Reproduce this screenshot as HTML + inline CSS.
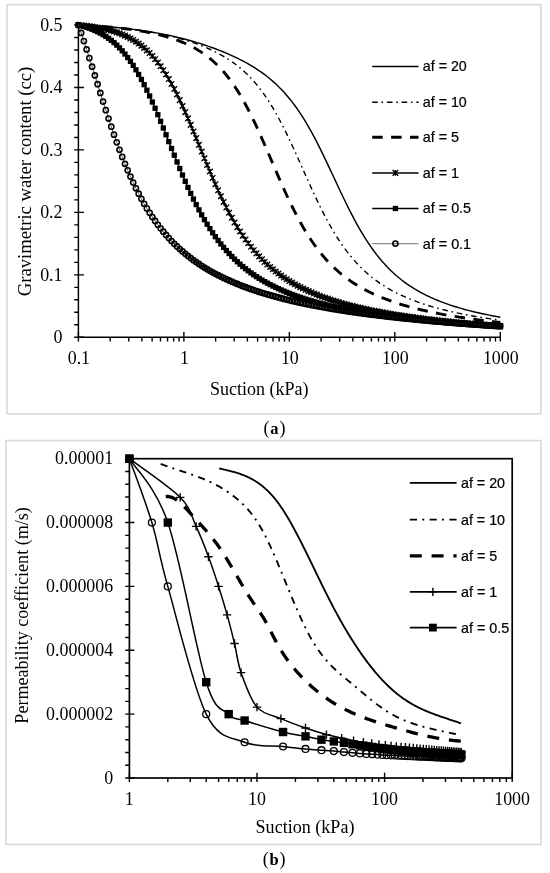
<!DOCTYPE html>
<html lang="en"><head><meta charset="utf-8"><title>Figure</title>
<style>html,body{margin:0;padding:0;background:#fff}svg{display:block}</style></head><body>
<svg width="550" height="873" viewBox="0 0 550 873">
<rect x="0" y="0" width="550" height="873" fill="#fff"/>
<rect x="7" y="4.6" width="534" height="409.2" fill="#fff" stroke="#d9d9d9" stroke-width="1.6"/>
<rect x="5.9" y="440.6" width="535.1" height="403.9" fill="#fff" stroke="#d9d9d9" stroke-width="1.6"/>
<g id="panel-a">
<path d="M78.40 24.40 V337.90 M77.80 337.30 H500.90" stroke="#000" stroke-width="1.45" fill="none"/>
<path d="M74.20 337.30 H83.90 M74.20 324.81 H78.40 M74.20 312.32 H78.40 M74.20 299.82 H78.40 M74.20 287.33 H78.40 M74.20 274.84 H83.90 M74.20 262.35 H78.40 M74.20 249.86 H78.40 M74.20 237.36 H78.40 M74.20 224.87 H78.40 M74.20 212.38 H83.90 M74.20 199.89 H78.40 M74.20 187.40 H78.40 M74.20 174.90 H78.40 M74.20 162.41 H78.40 M74.20 149.92 H83.90 M74.20 137.43 H78.40 M74.20 124.94 H78.40 M74.20 112.44 H78.40 M74.20 99.95 H78.40 M74.20 87.46 H83.90 M74.20 74.97 H78.40 M74.20 62.48 H78.40 M74.20 49.98 H78.40 M74.20 37.49 H78.40 M74.20 25.00 H83.90 M78.40 332.10 V341.40 M110.15 337.30 V341.40 M128.72 337.30 V341.40 M141.90 337.30 V341.40 M152.12 337.30 V341.40 M160.48 337.30 V341.40 M167.54 337.30 V341.40 M173.65 337.30 V341.40 M179.05 337.30 V341.40 M183.88 332.10 V341.40 M215.63 337.30 V341.40 M234.20 337.30 V341.40 M247.38 337.30 V341.40 M257.60 337.30 V341.40 M265.95 337.30 V341.40 M273.01 337.30 V341.40 M279.13 337.30 V341.40 M284.52 337.30 V341.40 M289.35 332.10 V341.40 M321.10 337.30 V341.40 M339.67 337.30 V341.40 M352.85 337.30 V341.40 M363.07 337.30 V341.40 M371.43 337.30 V341.40 M378.49 337.30 V341.40 M384.60 337.30 V341.40 M390.00 337.30 V341.40 M394.82 332.10 V341.40 M426.58 337.30 V341.40 M445.15 337.30 V341.40 M458.33 337.30 V341.40 M468.55 337.30 V341.40 M476.90 337.30 V341.40 M483.96 337.30 V341.40 M490.08 337.30 V341.40 M495.47 337.30 V341.40 M500.30 332.10 V341.40" stroke="#000" stroke-width="1.4" fill="none"/>
<text x="62.5" y="343.00" font-family='"Liberation Serif", "Times New Roman", serif' font-size="17.9" text-anchor="end">0</text>
<text x="62.5" y="280.54" font-family='"Liberation Serif", "Times New Roman", serif' font-size="17.9" text-anchor="end">0.1</text>
<text x="62.5" y="218.08" font-family='"Liberation Serif", "Times New Roman", serif' font-size="17.9" text-anchor="end">0.2</text>
<text x="62.5" y="155.62" font-family='"Liberation Serif", "Times New Roman", serif' font-size="17.9" text-anchor="end">0.3</text>
<text x="62.5" y="93.16" font-family='"Liberation Serif", "Times New Roman", serif' font-size="17.9" text-anchor="end">0.4</text>
<text x="62.5" y="30.70" font-family='"Liberation Serif", "Times New Roman", serif' font-size="17.9" text-anchor="end">0.5</text>
<text x="78.90" y="363.6" font-family='"Liberation Serif", "Times New Roman", serif' font-size="17.9" text-anchor="middle">0.1</text>
<text x="184.38" y="363.6" font-family='"Liberation Serif", "Times New Roman", serif' font-size="17.9" text-anchor="middle">1</text>
<text x="289.85" y="363.6" font-family='"Liberation Serif", "Times New Roman", serif' font-size="17.9" text-anchor="middle">10</text>
<text x="395.32" y="363.6" font-family='"Liberation Serif", "Times New Roman", serif' font-size="17.9" text-anchor="middle">100</text>
<text x="500.80" y="363.6" font-family='"Liberation Serif", "Times New Roman", serif' font-size="17.9" text-anchor="middle">1000</text>
<text x="259.3" y="394.7" font-family='"Liberation Serif", "Times New Roman", serif' font-size="18" text-anchor="middle" textLength="98.7" lengthAdjust="spacingAndGlyphs">Suction (kPa)</text>
<text transform="translate(30.5 181.5) rotate(-90)" font-family='"Liberation Serif", "Times New Roman", serif' font-size="18.5" text-anchor="middle" textLength="229.5" lengthAdjust="spacingAndGlyphs">Gravimetric water content (cc)</text>
<path d="M78.40 25.00 L81.14 25.13 L83.88 25.26 L86.62 25.40 L89.36 25.55 L92.10 25.71 L94.84 25.88 L97.58 26.05 L100.32 26.24 L103.06 26.44 L105.80 26.64 L108.54 26.86 L111.28 27.08 L114.01 27.32 L116.75 27.57 L119.49 27.84 L122.23 28.11 L124.97 28.40 L127.71 28.71 L130.45 29.03 L133.19 29.36 L135.93 29.71 L138.67 30.08 L141.41 30.46 L144.15 30.86 L146.89 31.28 L149.63 31.71 L152.37 32.17 L155.11 32.64 L157.85 33.14 L160.59 33.65 L163.33 34.18 L166.07 34.74 L168.81 35.31 L171.55 35.91 L174.29 36.53 L177.03 37.17 L179.77 37.84 L182.51 38.53 L185.24 39.24 L187.98 39.98 L190.72 40.74 L193.46 41.53 L196.20 42.34 L198.94 43.18 L201.68 44.04 L204.42 44.94 L207.16 45.86 L209.90 46.81 L212.64 47.79 L215.38 48.80 L218.12 49.84 L220.86 50.92 L223.60 52.03 L226.34 53.18 L229.08 54.37 L231.82 55.59 L234.56 56.86 L237.30 58.18 L240.04 59.54 L242.78 60.96 L245.52 62.43 L248.26 63.96 L251.00 65.55 L253.74 67.22 L256.47 68.96 L259.21 70.78 L261.95 72.69 L264.69 74.69 L267.43 76.80 L270.17 79.01 L272.91 81.35 L275.65 83.82 L278.39 86.42 L281.13 89.18 L283.87 92.09 L286.61 95.17 L289.35 98.43 L292.09 101.87 L294.83 105.51 L297.57 109.35 L300.31 113.39 L303.05 117.65 L305.79 122.11 L308.53 126.78 L311.27 131.65 L314.01 136.71 L316.75 141.95 L319.49 147.36 L322.23 152.90 L324.96 158.57 L327.70 164.33 L330.44 170.16 L333.18 176.03 L335.92 181.90 L338.66 187.74 L341.40 193.54 L344.14 199.25 L346.88 204.85 L349.62 210.33 L352.36 215.65 L355.10 220.80 L357.84 225.78 L360.58 230.56 L363.32 235.15 L366.06 239.53 L368.80 243.72 L371.54 247.71 L374.28 251.49 L377.02 255.09 L379.76 258.50 L382.50 261.73 L385.24 264.79 L387.98 267.69 L390.72 270.43 L393.46 273.02 L396.19 275.47 L398.93 277.79 L401.67 279.99 L404.41 282.07 L407.15 284.05 L409.89 285.92 L412.63 287.70 L415.37 289.39 L418.11 290.99 L420.85 292.51 L423.59 293.97 L426.33 295.35 L429.07 296.67 L431.81 297.92 L434.55 299.13 L437.29 300.27 L440.03 301.37 L442.77 302.42 L445.51 303.43 L448.25 304.39 L450.99 305.32 L453.73 306.20 L456.47 307.06 L459.21 307.88 L461.95 308.67 L464.69 309.43 L467.42 310.16 L470.16 310.86 L472.90 311.54 L475.64 312.20 L478.38 312.83 L481.12 313.44 L483.86 314.04 L486.60 314.61 L489.34 315.16 L492.08 315.70 L494.82 316.22 L497.56 316.72 L500.30 317.21" stroke="#000" stroke-width="1.45" fill="none" stroke-linejoin="round"/>
<path d="M78.40 25.00 L81.14 25.13 L83.88 25.26 L86.62 25.41 L89.36 25.56 L92.10 25.72 L94.84 25.89 L97.58 26.07 L100.32 26.25 L103.06 26.45 L105.80 26.66 L108.54 26.88 L111.28 27.11 L114.01 27.35 L116.75 27.61 L119.49 27.88 L122.23 28.16 L124.97 28.46 L127.71 28.77 L130.45 29.10 L133.19 29.45 L135.93 29.81 L138.67 30.19 L141.41 30.59 L144.15 31.00 L146.89 31.44 L149.63 31.89 L152.37 32.37 L155.11 32.87 L157.85 33.40 L160.59 33.94 L163.33 34.51 L166.07 35.11 L168.81 35.73 L171.55 36.38 L174.29 37.06 L177.03 37.77 L179.77 38.52 L182.51 39.29 L185.24 40.10 L187.98 40.94 L190.72 41.82 L193.46 42.75 L196.20 43.71 L198.94 44.72 L201.68 45.77 L204.42 46.88 L207.16 48.04 L209.90 49.25 L212.64 50.53 L215.38 51.87 L218.12 53.28 L220.86 54.77 L223.60 56.34 L226.34 58.00 L229.08 59.75 L231.82 61.60 L234.56 63.56 L237.30 65.65 L240.04 67.86 L242.78 70.20 L245.52 72.70 L248.26 75.35 L251.00 78.18 L253.74 81.18 L256.47 84.37 L259.21 87.76 L261.95 91.36 L264.69 95.18 L267.43 99.21 L270.17 103.48 L272.91 107.97 L275.65 112.68 L278.39 117.63 L281.13 122.78 L283.87 128.14 L286.61 133.68 L289.35 139.40 L292.09 145.26 L294.83 151.23 L297.57 157.30 L300.31 163.43 L303.05 169.58 L305.79 175.73 L308.53 181.84 L311.27 187.88 L314.01 193.82 L316.75 199.64 L319.49 205.32 L322.23 210.82 L324.96 216.15 L327.70 221.28 L330.44 226.21 L333.18 230.94 L335.92 235.45 L338.66 239.75 L341.40 243.84 L344.14 247.73 L346.88 251.42 L349.62 254.92 L352.36 258.23 L355.10 261.37 L357.84 264.34 L360.58 267.15 L363.32 269.81 L366.06 272.33 L368.80 274.71 L371.54 276.97 L374.28 279.11 L377.02 281.15 L379.76 283.07 L382.50 284.90 L385.24 286.64 L387.98 288.29 L390.72 289.87 L393.46 291.36 L396.19 292.79 L398.93 294.15 L401.67 295.45 L404.41 296.70 L407.15 297.88 L409.89 299.02 L412.63 300.11 L415.37 301.15 L418.11 302.15 L420.85 303.11 L423.59 304.03 L426.33 304.92 L429.07 305.77 L431.81 306.59 L434.55 307.38 L437.29 308.14 L440.03 308.88 L442.77 309.58 L445.51 310.27 L448.25 310.93 L450.99 311.57 L453.73 312.18 L456.47 312.78 L459.21 313.36 L461.95 313.92 L464.69 314.46 L467.42 314.98 L470.16 315.49 L472.90 315.99 L475.64 316.47 L478.38 316.94 L481.12 317.39 L483.86 317.83 L486.60 318.26 L489.34 318.67 L492.08 319.08 L494.82 319.47 L497.56 319.86 L500.30 320.23" stroke="#000" stroke-width="1.4" fill="none" stroke-dasharray="5.6 3.7 1.6 3.8" stroke-dashoffset="1.8" stroke-linejoin="round"/>
<path d="M78.40 25.00 L81.14 25.13 L83.88 25.27 L86.62 25.42 L89.36 25.58 L92.10 25.75 L94.84 25.92 L97.58 26.11 L100.32 26.31 L103.06 26.52 L105.80 26.74 L108.54 26.97 L111.28 27.22 L114.01 27.48 L116.75 27.76 L119.49 28.05 L122.23 28.36 L124.97 28.69 L127.71 29.03 L130.45 29.40 L133.19 29.78 L135.93 30.19 L138.67 30.62 L141.41 31.08 L144.15 31.56 L146.89 32.07 L149.63 32.61 L152.37 33.18 L155.11 33.79 L157.85 34.43 L160.59 35.11 L163.33 35.83 L166.07 36.59 L168.81 37.40 L171.55 38.26 L174.29 39.18 L177.03 40.15 L179.77 41.19 L182.51 42.29 L185.24 43.46 L187.98 44.71 L190.72 46.05 L193.46 47.48 L196.20 49.01 L198.94 50.65 L201.68 52.40 L204.42 54.27 L207.16 56.28 L209.90 58.44 L212.64 60.75 L215.38 63.23 L218.12 65.88 L220.86 68.73 L223.60 71.77 L226.34 75.03 L229.08 78.51 L231.82 82.22 L234.56 86.17 L237.30 90.37 L240.04 94.81 L242.78 99.50 L245.52 104.43 L248.26 109.61 L251.00 115.01 L253.74 120.62 L256.47 126.43 L259.21 132.42 L261.95 138.55 L264.69 144.79 L267.43 151.12 L270.17 157.51 L272.91 163.91 L275.65 170.29 L278.39 176.62 L281.13 182.87 L283.87 189.01 L286.61 195.01 L289.35 200.84 L292.09 206.50 L294.83 211.97 L297.57 217.23 L300.31 222.27 L303.05 227.10 L305.79 231.71 L308.53 236.10 L311.27 240.28 L314.01 244.25 L316.75 248.01 L319.49 251.58 L322.23 254.96 L324.96 258.16 L327.70 261.20 L330.44 264.07 L333.18 266.78 L335.92 269.36 L338.66 271.79 L341.40 274.10 L344.14 276.30 L346.88 278.37 L349.62 280.35 L352.36 282.22 L355.10 284.01 L357.84 285.70 L360.58 287.32 L363.32 288.86 L366.06 290.33 L368.80 291.73 L371.54 293.07 L374.28 294.35 L377.02 295.57 L379.76 296.74 L382.50 297.86 L385.24 298.94 L387.98 299.97 L390.72 300.97 L393.46 301.92 L396.19 302.84 L398.93 303.72 L401.67 304.57 L404.41 305.38 L407.15 306.17 L409.89 306.93 L412.63 307.67 L415.37 308.38 L418.11 309.06 L420.85 309.72 L423.59 310.37 L426.33 310.99 L429.07 311.59 L431.81 312.17 L434.55 312.73 L437.29 313.28 L440.03 313.81 L442.77 314.32 L445.51 314.82 L448.25 315.31 L450.99 315.78 L453.73 316.24 L456.47 316.69 L459.21 317.12 L461.95 317.54 L464.69 317.96 L467.42 318.36 L470.16 318.75 L472.90 319.13 L475.64 319.50 L478.38 319.86 L481.12 320.21 L483.86 320.56 L486.60 320.89 L489.34 321.22 L492.08 321.54 L494.82 321.86 L497.56 322.16 L500.30 322.46" stroke="#000" stroke-width="2.9" fill="none" stroke-dasharray="10.5 8.4" stroke-dashoffset="-5" stroke-linejoin="round"/>
<path d="M78.40 25.00 L81.14 25.27 L83.88 25.57 L86.62 25.89 L89.36 26.25 L92.10 26.64 L94.84 27.06 L97.58 27.53 L100.32 28.04 L103.06 28.60 L105.80 29.22 L108.54 29.90 L111.28 30.64 L114.01 31.46 L116.75 32.35 L119.49 33.34 L122.23 34.42 L124.97 35.61 L127.71 36.92 L130.45 38.36 L133.19 39.94 L135.93 41.66 L138.67 43.56 L141.41 45.63 L144.15 47.90 L146.89 50.37 L149.63 53.06 L152.37 55.99 L155.11 59.16 L157.85 62.59 L160.59 66.30 L163.33 70.28 L166.07 74.54 L168.81 79.09 L171.55 83.93 L174.29 89.05 L177.03 94.45 L179.77 100.10 L182.51 105.99 L185.24 112.10 L187.98 118.40 L190.72 124.87 L193.46 131.45 L196.20 138.13 L198.94 144.85 L201.68 151.59 L204.42 158.30 L207.16 164.96 L209.90 171.51 L212.64 177.94 L215.38 184.22 L218.12 190.33 L220.86 196.24 L223.60 201.95 L226.34 207.44 L229.08 212.70 L231.82 217.73 L234.56 222.54 L237.30 227.12 L240.04 231.48 L242.78 235.62 L245.52 239.56 L248.26 243.29 L251.00 246.82 L253.74 250.18 L256.47 253.36 L259.21 256.37 L261.95 259.23 L264.69 261.94 L267.43 264.51 L270.17 266.95 L272.91 269.27 L275.65 271.47 L278.39 273.56 L281.13 275.56 L283.87 277.45 L286.61 279.26 L289.35 280.99 L292.09 282.63 L294.83 284.20 L297.57 285.71 L300.31 287.14 L303.05 288.52 L305.79 289.83 L308.53 291.10 L311.27 292.31 L314.01 293.47 L316.75 294.59 L319.49 295.66 L322.23 296.70 L324.96 297.69 L327.70 298.65 L330.44 299.57 L333.18 300.46 L335.92 301.32 L338.66 302.15 L341.40 302.95 L344.14 303.73 L346.88 304.48 L349.62 305.20 L352.36 305.90 L355.10 306.58 L357.84 307.24 L360.58 307.88 L363.32 308.50 L366.06 309.10 L368.80 309.68 L371.54 310.25 L374.28 310.80 L377.02 311.34 L379.76 311.86 L382.50 312.36 L385.24 312.86 L387.98 313.33 L390.72 313.80 L393.46 314.26 L396.19 314.70 L398.93 315.13 L401.67 315.55 L404.41 315.96 L407.15 316.36 L409.89 316.76 L412.63 317.14 L415.37 317.51 L418.11 317.87 L420.85 318.23 L423.59 318.58 L426.33 318.92 L429.07 319.25 L431.81 319.58 L434.55 319.89 L437.29 320.20 L440.03 320.51 L442.77 320.81 L445.51 321.10 L448.25 321.39 L450.99 321.67 L453.73 321.94 L456.47 322.21 L459.21 322.47 L461.95 322.73 L464.69 322.98 L467.42 323.23 L470.16 323.48 L472.90 323.72 L475.64 323.95 L478.38 324.18 L481.12 324.41 L483.86 324.63 L486.60 324.85 L489.34 325.06 L492.08 325.27 L494.82 325.48 L497.56 325.68 L500.30 325.88" stroke="#000" stroke-width="1.4" fill="none"/>
<g><path d="M75.60 22.20 L81.20 27.80 M75.60 27.80 L81.20 22.20 M78.40 22.20 L78.40 27.80" stroke="#000" stroke-width="1.35" fill="none"/><path d="M78.34 22.47 L83.94 28.07 M78.34 28.07 L83.94 22.47 M81.14 22.47 L81.14 28.07" stroke="#000" stroke-width="1.35" fill="none"/><path d="M81.08 22.77 L86.68 28.37 M81.08 28.37 L86.68 22.77 M83.88 22.77 L83.88 28.37" stroke="#000" stroke-width="1.35" fill="none"/><path d="M83.82 23.09 L89.42 28.69 M83.82 28.69 L89.42 23.09 M86.62 23.09 L86.62 28.69" stroke="#000" stroke-width="1.35" fill="none"/><path d="M86.56 23.45 L92.16 29.05 M86.56 29.05 L92.16 23.45 M89.36 23.45 L89.36 29.05" stroke="#000" stroke-width="1.35" fill="none"/><path d="M89.30 23.84 L94.90 29.44 M89.30 29.44 L94.90 23.84 M92.10 23.84 L92.10 29.44" stroke="#000" stroke-width="1.35" fill="none"/><path d="M92.04 24.26 L97.64 29.86 M92.04 29.86 L97.64 24.26 M94.84 24.26 L94.84 29.86" stroke="#000" stroke-width="1.35" fill="none"/><path d="M94.78 24.73 L100.38 30.33 M94.78 30.33 L100.38 24.73 M97.58 24.73 L97.58 30.33" stroke="#000" stroke-width="1.35" fill="none"/><path d="M97.52 25.24 L103.12 30.84 M97.52 30.84 L103.12 25.24 M100.32 25.24 L100.32 30.84" stroke="#000" stroke-width="1.35" fill="none"/><path d="M100.26 25.80 L105.86 31.40 M100.26 31.40 L105.86 25.80 M103.06 25.80 L103.06 31.40" stroke="#000" stroke-width="1.35" fill="none"/><path d="M103.00 26.42 L108.60 32.02 M103.00 32.02 L108.60 26.42 M105.80 26.42 L105.80 32.02" stroke="#000" stroke-width="1.35" fill="none"/><path d="M105.74 27.10 L111.34 32.70 M105.74 32.70 L111.34 27.10 M108.54 27.10 L108.54 32.70" stroke="#000" stroke-width="1.35" fill="none"/><path d="M108.48 27.84 L114.08 33.44 M108.48 33.44 L114.08 27.84 M111.28 27.84 L111.28 33.44" stroke="#000" stroke-width="1.35" fill="none"/><path d="M111.21 28.66 L116.81 34.26 M111.21 34.26 L116.81 28.66 M114.01 28.66 L114.01 34.26" stroke="#000" stroke-width="1.35" fill="none"/><path d="M113.95 29.55 L119.55 35.15 M113.95 35.15 L119.55 29.55 M116.75 29.55 L116.75 35.15" stroke="#000" stroke-width="1.35" fill="none"/><path d="M116.69 30.54 L122.29 36.14 M116.69 36.14 L122.29 30.54 M119.49 30.54 L119.49 36.14" stroke="#000" stroke-width="1.35" fill="none"/><path d="M119.43 31.62 L125.03 37.22 M119.43 37.22 L125.03 31.62 M122.23 31.62 L122.23 37.22" stroke="#000" stroke-width="1.35" fill="none"/><path d="M122.17 32.81 L127.77 38.41 M122.17 38.41 L127.77 32.81 M124.97 32.81 L124.97 38.41" stroke="#000" stroke-width="1.35" fill="none"/><path d="M124.91 34.12 L130.51 39.72 M124.91 39.72 L130.51 34.12 M127.71 34.12 L127.71 39.72" stroke="#000" stroke-width="1.35" fill="none"/><path d="M127.65 35.56 L133.25 41.16 M127.65 41.16 L133.25 35.56 M130.45 35.56 L130.45 41.16" stroke="#000" stroke-width="1.35" fill="none"/><path d="M130.39 37.14 L135.99 42.74 M130.39 42.74 L135.99 37.14 M133.19 37.14 L133.19 42.74" stroke="#000" stroke-width="1.35" fill="none"/><path d="M133.13 38.86 L138.73 44.46 M133.13 44.46 L138.73 38.86 M135.93 38.86 L135.93 44.46" stroke="#000" stroke-width="1.35" fill="none"/><path d="M135.87 40.76 L141.47 46.36 M135.87 46.36 L141.47 40.76 M138.67 40.76 L138.67 46.36" stroke="#000" stroke-width="1.35" fill="none"/><path d="M138.61 42.83 L144.21 48.43 M138.61 48.43 L144.21 42.83 M141.41 42.83 L141.41 48.43" stroke="#000" stroke-width="1.35" fill="none"/><path d="M141.35 45.10 L146.95 50.70 M141.35 50.70 L146.95 45.10 M144.15 45.10 L144.15 50.70" stroke="#000" stroke-width="1.35" fill="none"/><path d="M144.09 47.57 L149.69 53.17 M144.09 53.17 L149.69 47.57 M146.89 47.57 L146.89 53.17" stroke="#000" stroke-width="1.35" fill="none"/><path d="M146.83 50.26 L152.43 55.86 M146.83 55.86 L152.43 50.26 M149.63 50.26 L149.63 55.86" stroke="#000" stroke-width="1.35" fill="none"/><path d="M149.57 53.19 L155.17 58.79 M149.57 58.79 L155.17 53.19 M152.37 53.19 L152.37 58.79" stroke="#000" stroke-width="1.35" fill="none"/><path d="M152.31 56.36 L157.91 61.96 M152.31 61.96 L157.91 56.36 M155.11 56.36 L155.11 61.96" stroke="#000" stroke-width="1.35" fill="none"/><path d="M155.05 59.79 L160.65 65.39 M155.05 65.39 L160.65 59.79 M157.85 59.79 L157.85 65.39" stroke="#000" stroke-width="1.35" fill="none"/><path d="M157.79 63.50 L163.39 69.10 M157.79 69.10 L163.39 63.50 M160.59 63.50 L160.59 69.10" stroke="#000" stroke-width="1.35" fill="none"/><path d="M160.53 67.48 L166.13 73.08 M160.53 73.08 L166.13 67.48 M163.33 67.48 L163.33 73.08" stroke="#000" stroke-width="1.35" fill="none"/><path d="M163.27 71.74 L168.87 77.34 M163.27 77.34 L168.87 71.74 M166.07 71.74 L166.07 77.34" stroke="#000" stroke-width="1.35" fill="none"/><path d="M166.01 76.29 L171.61 81.89 M166.01 81.89 L171.61 76.29 M168.81 76.29 L168.81 81.89" stroke="#000" stroke-width="1.35" fill="none"/><path d="M168.75 81.13 L174.35 86.73 M168.75 86.73 L174.35 81.13 M171.55 81.13 L171.55 86.73" stroke="#000" stroke-width="1.35" fill="none"/><path d="M171.49 86.25 L177.09 91.85 M171.49 91.85 L177.09 86.25 M174.29 86.25 L174.29 91.85" stroke="#000" stroke-width="1.35" fill="none"/><path d="M174.23 91.65 L179.83 97.25 M174.23 97.25 L179.83 91.65 M177.03 91.65 L177.03 97.25" stroke="#000" stroke-width="1.35" fill="none"/><path d="M176.97 97.30 L182.57 102.90 M176.97 102.90 L182.57 97.30 M179.77 97.30 L179.77 102.90" stroke="#000" stroke-width="1.35" fill="none"/><path d="M179.71 103.19 L185.31 108.79 M179.71 108.79 L185.31 103.19 M182.51 103.19 L182.51 108.79" stroke="#000" stroke-width="1.35" fill="none"/><path d="M182.44 109.30 L188.04 114.90 M182.44 114.90 L188.04 109.30 M185.24 109.30 L185.24 114.90" stroke="#000" stroke-width="1.35" fill="none"/><path d="M185.18 115.60 L190.78 121.20 M185.18 121.20 L190.78 115.60 M187.98 115.60 L187.98 121.20" stroke="#000" stroke-width="1.35" fill="none"/><path d="M187.92 122.07 L193.52 127.67 M187.92 127.67 L193.52 122.07 M190.72 122.07 L190.72 127.67" stroke="#000" stroke-width="1.35" fill="none"/><path d="M190.66 128.65 L196.26 134.25 M190.66 134.25 L196.26 128.65 M193.46 128.65 L193.46 134.25" stroke="#000" stroke-width="1.35" fill="none"/><path d="M193.40 135.33 L199.00 140.93 M193.40 140.93 L199.00 135.33 M196.20 135.33 L196.20 140.93" stroke="#000" stroke-width="1.35" fill="none"/><path d="M196.14 142.05 L201.74 147.65 M196.14 147.65 L201.74 142.05 M198.94 142.05 L198.94 147.65" stroke="#000" stroke-width="1.35" fill="none"/><path d="M198.88 148.79 L204.48 154.39 M198.88 154.39 L204.48 148.79 M201.68 148.79 L201.68 154.39" stroke="#000" stroke-width="1.35" fill="none"/><path d="M201.62 155.50 L207.22 161.10 M201.62 161.10 L207.22 155.50 M204.42 155.50 L204.42 161.10" stroke="#000" stroke-width="1.35" fill="none"/><path d="M204.36 162.16 L209.96 167.76 M204.36 167.76 L209.96 162.16 M207.16 162.16 L207.16 167.76" stroke="#000" stroke-width="1.35" fill="none"/><path d="M207.10 168.71 L212.70 174.31 M207.10 174.31 L212.70 168.71 M209.90 168.71 L209.90 174.31" stroke="#000" stroke-width="1.35" fill="none"/><path d="M209.84 175.14 L215.44 180.74 M209.84 180.74 L215.44 175.14 M212.64 175.14 L212.64 180.74" stroke="#000" stroke-width="1.35" fill="none"/><path d="M212.58 181.42 L218.18 187.02 M212.58 187.02 L218.18 181.42 M215.38 181.42 L215.38 187.02" stroke="#000" stroke-width="1.35" fill="none"/><path d="M215.32 187.53 L220.92 193.13 M215.32 193.13 L220.92 187.53 M218.12 187.53 L218.12 193.13" stroke="#000" stroke-width="1.35" fill="none"/><path d="M218.06 193.44 L223.66 199.04 M218.06 199.04 L223.66 193.44 M220.86 193.44 L220.86 199.04" stroke="#000" stroke-width="1.35" fill="none"/><path d="M220.80 199.15 L226.40 204.75 M220.80 204.75 L226.40 199.15 M223.60 199.15 L223.60 204.75" stroke="#000" stroke-width="1.35" fill="none"/><path d="M223.54 204.64 L229.14 210.24 M223.54 210.24 L229.14 204.64 M226.34 204.64 L226.34 210.24" stroke="#000" stroke-width="1.35" fill="none"/><path d="M226.28 209.90 L231.88 215.50 M226.28 215.50 L231.88 209.90 M229.08 209.90 L229.08 215.50" stroke="#000" stroke-width="1.35" fill="none"/><path d="M229.02 214.93 L234.62 220.53 M229.02 220.53 L234.62 214.93 M231.82 214.93 L231.82 220.53" stroke="#000" stroke-width="1.35" fill="none"/><path d="M231.76 219.74 L237.36 225.34 M231.76 225.34 L237.36 219.74 M234.56 219.74 L234.56 225.34" stroke="#000" stroke-width="1.35" fill="none"/><path d="M234.50 224.32 L240.10 229.92 M234.50 229.92 L240.10 224.32 M237.30 224.32 L237.30 229.92" stroke="#000" stroke-width="1.35" fill="none"/><path d="M237.24 228.68 L242.84 234.28 M237.24 234.28 L242.84 228.68 M240.04 228.68 L240.04 234.28" stroke="#000" stroke-width="1.35" fill="none"/><path d="M239.98 232.82 L245.58 238.42 M239.98 238.42 L245.58 232.82 M242.78 232.82 L242.78 238.42" stroke="#000" stroke-width="1.35" fill="none"/><path d="M242.72 236.76 L248.32 242.36 M242.72 242.36 L248.32 236.76 M245.52 236.76 L245.52 242.36" stroke="#000" stroke-width="1.35" fill="none"/><path d="M245.46 240.49 L251.06 246.09 M245.46 246.09 L251.06 240.49 M248.26 240.49 L248.26 246.09" stroke="#000" stroke-width="1.35" fill="none"/><path d="M248.20 244.02 L253.80 249.62 M248.20 249.62 L253.80 244.02 M251.00 244.02 L251.00 249.62" stroke="#000" stroke-width="1.35" fill="none"/><path d="M250.94 247.38 L256.54 252.98 M250.94 252.98 L256.54 247.38 M253.74 247.38 L253.74 252.98" stroke="#000" stroke-width="1.35" fill="none"/><path d="M253.67 250.56 L259.27 256.16 M253.67 256.16 L259.27 250.56 M256.47 250.56 L256.47 256.16" stroke="#000" stroke-width="1.35" fill="none"/><path d="M256.41 253.57 L262.01 259.17 M256.41 259.17 L262.01 253.57 M259.21 253.57 L259.21 259.17" stroke="#000" stroke-width="1.35" fill="none"/><path d="M259.15 256.43 L264.75 262.03 M259.15 262.03 L264.75 256.43 M261.95 256.43 L261.95 262.03" stroke="#000" stroke-width="1.35" fill="none"/><path d="M261.89 259.14 L267.49 264.74 M261.89 264.74 L267.49 259.14 M264.69 259.14 L264.69 264.74" stroke="#000" stroke-width="1.35" fill="none"/><path d="M264.63 261.71 L270.23 267.31 M264.63 267.31 L270.23 261.71 M267.43 261.71 L267.43 267.31" stroke="#000" stroke-width="1.35" fill="none"/><path d="M267.37 264.15 L272.97 269.75 M267.37 269.75 L272.97 264.15 M270.17 264.15 L270.17 269.75" stroke="#000" stroke-width="1.35" fill="none"/><path d="M270.11 266.47 L275.71 272.07 M270.11 272.07 L275.71 266.47 M272.91 266.47 L272.91 272.07" stroke="#000" stroke-width="1.35" fill="none"/><path d="M272.85 268.67 L278.45 274.27 M272.85 274.27 L278.45 268.67 M275.65 268.67 L275.65 274.27" stroke="#000" stroke-width="1.35" fill="none"/><path d="M275.59 270.76 L281.19 276.36 M275.59 276.36 L281.19 270.76 M278.39 270.76 L278.39 276.36" stroke="#000" stroke-width="1.35" fill="none"/><path d="M278.33 272.76 L283.93 278.36 M278.33 278.36 L283.93 272.76 M281.13 272.76 L281.13 278.36" stroke="#000" stroke-width="1.35" fill="none"/><path d="M281.07 274.65 L286.67 280.25 M281.07 280.25 L286.67 274.65 M283.87 274.65 L283.87 280.25" stroke="#000" stroke-width="1.35" fill="none"/><path d="M283.81 276.46 L289.41 282.06 M283.81 282.06 L289.41 276.46 M286.61 276.46 L286.61 282.06" stroke="#000" stroke-width="1.35" fill="none"/><path d="M286.55 278.19 L292.15 283.79 M286.55 283.79 L292.15 278.19 M289.35 278.19 L289.35 283.79" stroke="#000" stroke-width="1.35" fill="none"/><path d="M289.29 279.83 L294.89 285.43 M289.29 285.43 L294.89 279.83 M292.09 279.83 L292.09 285.43" stroke="#000" stroke-width="1.35" fill="none"/><path d="M292.03 281.40 L297.63 287.00 M292.03 287.00 L297.63 281.40 M294.83 281.40 L294.83 287.00" stroke="#000" stroke-width="1.35" fill="none"/><path d="M294.77 282.91 L300.37 288.51 M294.77 288.51 L300.37 282.91 M297.57 282.91 L297.57 288.51" stroke="#000" stroke-width="1.35" fill="none"/><path d="M297.51 284.34 L303.11 289.94 M297.51 289.94 L303.11 284.34 M300.31 284.34 L300.31 289.94" stroke="#000" stroke-width="1.35" fill="none"/><path d="M300.25 285.72 L305.85 291.32 M300.25 291.32 L305.85 285.72 M303.05 285.72 L303.05 291.32" stroke="#000" stroke-width="1.35" fill="none"/><path d="M302.99 287.03 L308.59 292.63 M302.99 292.63 L308.59 287.03 M305.79 287.03 L305.79 292.63" stroke="#000" stroke-width="1.35" fill="none"/><path d="M305.73 288.30 L311.33 293.90 M305.73 293.90 L311.33 288.30 M308.53 288.30 L308.53 293.90" stroke="#000" stroke-width="1.35" fill="none"/><path d="M308.47 289.51 L314.07 295.11 M308.47 295.11 L314.07 289.51 M311.27 289.51 L311.27 295.11" stroke="#000" stroke-width="1.35" fill="none"/><path d="M311.21 290.67 L316.81 296.27 M311.21 296.27 L316.81 290.67 M314.01 290.67 L314.01 296.27" stroke="#000" stroke-width="1.35" fill="none"/><path d="M313.95 291.79 L319.55 297.39 M313.95 297.39 L319.55 291.79 M316.75 291.79 L316.75 297.39" stroke="#000" stroke-width="1.35" fill="none"/><path d="M316.69 292.86 L322.29 298.46 M316.69 298.46 L322.29 292.86 M319.49 292.86 L319.49 298.46" stroke="#000" stroke-width="1.35" fill="none"/><path d="M319.43 293.90 L325.03 299.50 M319.43 299.50 L325.03 293.90 M322.23 293.90 L322.23 299.50" stroke="#000" stroke-width="1.35" fill="none"/><path d="M322.16 294.89 L327.76 300.49 M322.16 300.49 L327.76 294.89 M324.96 294.89 L324.96 300.49" stroke="#000" stroke-width="1.35" fill="none"/><path d="M324.90 295.85 L330.50 301.45 M324.90 301.45 L330.50 295.85 M327.70 295.85 L327.70 301.45" stroke="#000" stroke-width="1.35" fill="none"/><path d="M327.64 296.77 L333.24 302.37 M327.64 302.37 L333.24 296.77 M330.44 296.77 L330.44 302.37" stroke="#000" stroke-width="1.35" fill="none"/><path d="M330.38 297.66 L335.98 303.26 M330.38 303.26 L335.98 297.66 M333.18 297.66 L333.18 303.26" stroke="#000" stroke-width="1.35" fill="none"/><path d="M333.12 298.52 L338.72 304.12 M333.12 304.12 L338.72 298.52 M335.92 298.52 L335.92 304.12" stroke="#000" stroke-width="1.35" fill="none"/><path d="M335.86 299.35 L341.46 304.95 M335.86 304.95 L341.46 299.35 M338.66 299.35 L338.66 304.95" stroke="#000" stroke-width="1.35" fill="none"/><path d="M338.60 300.15 L344.20 305.75 M338.60 305.75 L344.20 300.15 M341.40 300.15 L341.40 305.75" stroke="#000" stroke-width="1.35" fill="none"/><path d="M341.34 300.93 L346.94 306.53 M341.34 306.53 L346.94 300.93 M344.14 300.93 L344.14 306.53" stroke="#000" stroke-width="1.35" fill="none"/><path d="M344.08 301.68 L349.68 307.28 M344.08 307.28 L349.68 301.68 M346.88 301.68 L346.88 307.28" stroke="#000" stroke-width="1.35" fill="none"/><path d="M346.82 302.40 L352.42 308.00 M346.82 308.00 L352.42 302.40 M349.62 302.40 L349.62 308.00" stroke="#000" stroke-width="1.35" fill="none"/><path d="M349.56 303.10 L355.16 308.70 M349.56 308.70 L355.16 303.10 M352.36 303.10 L352.36 308.70" stroke="#000" stroke-width="1.35" fill="none"/><path d="M352.30 303.78 L357.90 309.38 M352.30 309.38 L357.90 303.78 M355.10 303.78 L355.10 309.38" stroke="#000" stroke-width="1.35" fill="none"/><path d="M355.04 304.44 L360.64 310.04 M355.04 310.04 L360.64 304.44 M357.84 304.44 L357.84 310.04" stroke="#000" stroke-width="1.35" fill="none"/><path d="M357.78 305.08 L363.38 310.68 M357.78 310.68 L363.38 305.08 M360.58 305.08 L360.58 310.68" stroke="#000" stroke-width="1.35" fill="none"/><path d="M360.52 305.70 L366.12 311.30 M360.52 311.30 L366.12 305.70 M363.32 305.70 L363.32 311.30" stroke="#000" stroke-width="1.35" fill="none"/><path d="M363.26 306.30 L368.86 311.90 M363.26 311.90 L368.86 306.30 M366.06 306.30 L366.06 311.90" stroke="#000" stroke-width="1.35" fill="none"/><path d="M366.00 306.88 L371.60 312.48 M366.00 312.48 L371.60 306.88 M368.80 306.88 L368.80 312.48" stroke="#000" stroke-width="1.35" fill="none"/><path d="M368.74 307.45 L374.34 313.05 M368.74 313.05 L374.34 307.45 M371.54 307.45 L371.54 313.05" stroke="#000" stroke-width="1.35" fill="none"/><path d="M371.48 308.00 L377.08 313.60 M371.48 313.60 L377.08 308.00 M374.28 308.00 L374.28 313.60" stroke="#000" stroke-width="1.35" fill="none"/><path d="M374.22 308.54 L379.82 314.14 M374.22 314.14 L379.82 308.54 M377.02 308.54 L377.02 314.14" stroke="#000" stroke-width="1.35" fill="none"/><path d="M376.96 309.06 L382.56 314.66 M376.96 314.66 L382.56 309.06 M379.76 309.06 L379.76 314.66" stroke="#000" stroke-width="1.35" fill="none"/><path d="M379.70 309.56 L385.30 315.16 M379.70 315.16 L385.30 309.56 M382.50 309.56 L382.50 315.16" stroke="#000" stroke-width="1.35" fill="none"/><path d="M382.44 310.06 L388.04 315.66 M382.44 315.66 L388.04 310.06 M385.24 310.06 L385.24 315.66" stroke="#000" stroke-width="1.35" fill="none"/><path d="M385.18 310.53 L390.78 316.13 M385.18 316.13 L390.78 310.53 M387.98 310.53 L387.98 316.13" stroke="#000" stroke-width="1.35" fill="none"/><path d="M387.92 311.00 L393.52 316.60 M387.92 316.60 L393.52 311.00 M390.72 311.00 L390.72 316.60" stroke="#000" stroke-width="1.35" fill="none"/><path d="M390.66 311.46 L396.26 317.06 M390.66 317.06 L396.26 311.46 M393.46 311.46 L393.46 317.06" stroke="#000" stroke-width="1.35" fill="none"/><path d="M393.39 311.90 L398.99 317.50 M393.39 317.50 L398.99 311.90 M396.19 311.90 L396.19 317.50" stroke="#000" stroke-width="1.35" fill="none"/><path d="M396.13 312.33 L401.73 317.93 M396.13 317.93 L401.73 312.33 M398.93 312.33 L398.93 317.93" stroke="#000" stroke-width="1.35" fill="none"/><path d="M398.87 312.75 L404.47 318.35 M398.87 318.35 L404.47 312.75 M401.67 312.75 L401.67 318.35" stroke="#000" stroke-width="1.35" fill="none"/><path d="M401.61 313.16 L407.21 318.76 M401.61 318.76 L407.21 313.16 M404.41 313.16 L404.41 318.76" stroke="#000" stroke-width="1.35" fill="none"/><path d="M404.35 313.56 L409.95 319.16 M404.35 319.16 L409.95 313.56 M407.15 313.56 L407.15 319.16" stroke="#000" stroke-width="1.35" fill="none"/><path d="M407.09 313.96 L412.69 319.56 M407.09 319.56 L412.69 313.96 M409.89 313.96 L409.89 319.56" stroke="#000" stroke-width="1.35" fill="none"/><path d="M409.83 314.34 L415.43 319.94 M409.83 319.94 L415.43 314.34 M412.63 314.34 L412.63 319.94" stroke="#000" stroke-width="1.35" fill="none"/><path d="M412.57 314.71 L418.17 320.31 M412.57 320.31 L418.17 314.71 M415.37 314.71 L415.37 320.31" stroke="#000" stroke-width="1.35" fill="none"/><path d="M415.31 315.07 L420.91 320.67 M415.31 320.67 L420.91 315.07 M418.11 315.07 L418.11 320.67" stroke="#000" stroke-width="1.35" fill="none"/><path d="M418.05 315.43 L423.65 321.03 M418.05 321.03 L423.65 315.43 M420.85 315.43 L420.85 321.03" stroke="#000" stroke-width="1.35" fill="none"/><path d="M420.79 315.78 L426.39 321.38 M420.79 321.38 L426.39 315.78 M423.59 315.78 L423.59 321.38" stroke="#000" stroke-width="1.35" fill="none"/><path d="M423.53 316.12 L429.13 321.72 M423.53 321.72 L429.13 316.12 M426.33 316.12 L426.33 321.72" stroke="#000" stroke-width="1.35" fill="none"/><path d="M426.27 316.45 L431.87 322.05 M426.27 322.05 L431.87 316.45 M429.07 316.45 L429.07 322.05" stroke="#000" stroke-width="1.35" fill="none"/><path d="M429.01 316.78 L434.61 322.38 M429.01 322.38 L434.61 316.78 M431.81 316.78 L431.81 322.38" stroke="#000" stroke-width="1.35" fill="none"/><path d="M431.75 317.09 L437.35 322.69 M431.75 322.69 L437.35 317.09 M434.55 317.09 L434.55 322.69" stroke="#000" stroke-width="1.35" fill="none"/><path d="M434.49 317.40 L440.09 323.00 M434.49 323.00 L440.09 317.40 M437.29 317.40 L437.29 323.00" stroke="#000" stroke-width="1.35" fill="none"/><path d="M437.23 317.71 L442.83 323.31 M437.23 323.31 L442.83 317.71 M440.03 317.71 L440.03 323.31" stroke="#000" stroke-width="1.35" fill="none"/><path d="M439.97 318.01 L445.57 323.61 M439.97 323.61 L445.57 318.01 M442.77 318.01 L442.77 323.61" stroke="#000" stroke-width="1.35" fill="none"/><path d="M442.71 318.30 L448.31 323.90 M442.71 323.90 L448.31 318.30 M445.51 318.30 L445.51 323.90" stroke="#000" stroke-width="1.35" fill="none"/><path d="M445.45 318.59 L451.05 324.19 M445.45 324.19 L451.05 318.59 M448.25 318.59 L448.25 324.19" stroke="#000" stroke-width="1.35" fill="none"/><path d="M448.19 318.87 L453.79 324.47 M448.19 324.47 L453.79 318.87 M450.99 318.87 L450.99 324.47" stroke="#000" stroke-width="1.35" fill="none"/><path d="M450.93 319.14 L456.53 324.74 M450.93 324.74 L456.53 319.14 M453.73 319.14 L453.73 324.74" stroke="#000" stroke-width="1.35" fill="none"/><path d="M453.67 319.41 L459.27 325.01 M453.67 325.01 L459.27 319.41 M456.47 319.41 L456.47 325.01" stroke="#000" stroke-width="1.35" fill="none"/><path d="M456.41 319.67 L462.01 325.27 M456.41 325.27 L462.01 319.67 M459.21 319.67 L459.21 325.27" stroke="#000" stroke-width="1.35" fill="none"/><path d="M459.15 319.93 L464.75 325.53 M459.15 325.53 L464.75 319.93 M461.95 319.93 L461.95 325.53" stroke="#000" stroke-width="1.35" fill="none"/><path d="M461.89 320.18 L467.49 325.78 M461.89 325.78 L467.49 320.18 M464.69 320.18 L464.69 325.78" stroke="#000" stroke-width="1.35" fill="none"/><path d="M464.62 320.43 L470.22 326.03 M464.62 326.03 L470.22 320.43 M467.42 320.43 L467.42 326.03" stroke="#000" stroke-width="1.35" fill="none"/><path d="M467.36 320.68 L472.96 326.28 M467.36 326.28 L472.96 320.68 M470.16 320.68 L470.16 326.28" stroke="#000" stroke-width="1.35" fill="none"/><path d="M470.10 320.92 L475.70 326.52 M470.10 326.52 L475.70 320.92 M472.90 320.92 L472.90 326.52" stroke="#000" stroke-width="1.35" fill="none"/><path d="M472.84 321.15 L478.44 326.75 M472.84 326.75 L478.44 321.15 M475.64 321.15 L475.64 326.75" stroke="#000" stroke-width="1.35" fill="none"/><path d="M475.58 321.38 L481.18 326.98 M475.58 326.98 L481.18 321.38 M478.38 321.38 L478.38 326.98" stroke="#000" stroke-width="1.35" fill="none"/><path d="M478.32 321.61 L483.92 327.21 M478.32 327.21 L483.92 321.61 M481.12 321.61 L481.12 327.21" stroke="#000" stroke-width="1.35" fill="none"/><path d="M481.06 321.83 L486.66 327.43 M481.06 327.43 L486.66 321.83 M483.86 321.83 L483.86 327.43" stroke="#000" stroke-width="1.35" fill="none"/><path d="M483.80 322.05 L489.40 327.65 M483.80 327.65 L489.40 322.05 M486.60 322.05 L486.60 327.65" stroke="#000" stroke-width="1.35" fill="none"/><path d="M486.54 322.26 L492.14 327.86 M486.54 327.86 L492.14 322.26 M489.34 322.26 L489.34 327.86" stroke="#000" stroke-width="1.35" fill="none"/><path d="M489.28 322.47 L494.88 328.07 M489.28 328.07 L494.88 322.47 M492.08 322.47 L492.08 328.07" stroke="#000" stroke-width="1.35" fill="none"/><path d="M492.02 322.68 L497.62 328.28 M492.02 328.28 L497.62 322.68 M494.82 322.68 L494.82 328.28" stroke="#000" stroke-width="1.35" fill="none"/><path d="M494.76 322.88 L500.36 328.48 M494.76 328.48 L500.36 322.88 M497.56 322.88 L497.56 328.48" stroke="#000" stroke-width="1.35" fill="none"/><path d="M497.50 323.08 L503.10 328.68 M497.50 328.68 L503.10 323.08 M500.30 323.08 L500.30 328.68" stroke="#000" stroke-width="1.35" fill="none"/></g>
<path d="M78.40 25.00 L81.14 25.69 L83.88 26.46 L86.62 27.31 L89.36 28.25 L92.10 29.29 L94.84 30.45 L97.58 31.72 L100.32 33.13 L103.06 34.68 L105.80 36.39 L108.54 38.28 L111.28 40.36 L114.01 42.63 L116.75 45.12 L119.49 47.85 L122.23 50.82 L124.97 54.05 L127.71 57.55 L130.45 61.34 L133.19 65.41 L135.93 69.79 L138.67 74.45 L141.41 79.42 L144.15 84.67 L146.89 90.20 L149.63 95.99 L152.37 102.03 L155.11 108.28 L157.85 114.71 L160.59 121.30 L163.33 128.01 L166.07 134.79 L168.81 141.62 L171.55 148.44 L174.29 155.23 L177.03 161.95 L179.77 168.55 L182.51 175.03 L185.24 181.34 L187.98 187.46 L190.72 193.39 L193.46 199.10 L196.20 204.59 L198.94 209.86 L201.68 214.89 L204.42 219.70 L207.16 224.27 L209.90 228.63 L212.64 232.77 L215.38 236.70 L218.12 240.44 L220.86 243.98 L223.60 247.34 L226.34 250.53 L229.08 253.55 L231.82 256.42 L234.56 259.14 L237.30 261.73 L240.04 264.18 L242.78 266.52 L245.52 268.74 L248.26 270.86 L251.00 272.87 L253.74 274.79 L256.47 276.62 L259.21 278.37 L261.95 280.04 L264.69 281.64 L267.43 283.17 L270.17 284.63 L272.91 286.03 L275.65 287.38 L278.39 288.67 L281.13 289.90 L283.87 291.09 L286.61 292.24 L289.35 293.34 L292.09 294.40 L294.83 295.42 L297.57 296.41 L300.31 297.35 L303.05 298.27 L305.79 299.16 L308.53 300.01 L311.27 300.84 L314.01 301.64 L316.75 302.41 L319.49 303.16 L322.23 303.89 L324.96 304.59 L327.70 305.27 L330.44 305.93 L333.18 306.58 L335.92 307.20 L338.66 307.80 L341.40 308.39 L344.14 308.96 L346.88 309.52 L349.62 310.06 L352.36 310.59 L355.10 311.10 L357.84 311.60 L360.58 312.09 L363.32 312.56 L366.06 313.02 L368.80 313.47 L371.54 313.91 L374.28 314.34 L377.02 314.76 L379.76 315.17 L382.50 315.56 L385.24 315.95 L387.98 316.33 L390.72 316.71 L393.46 317.07 L396.19 317.43 L398.93 317.77 L401.67 318.11 L404.41 318.45 L407.15 318.77 L409.89 319.09 L412.63 319.40 L415.37 319.71 L418.11 320.01 L420.85 320.30 L423.59 320.59 L426.33 320.87 L429.07 321.15 L431.81 321.42 L434.55 321.68 L437.29 321.94 L440.03 322.20 L442.77 322.45 L445.51 322.70 L448.25 322.94 L450.99 323.17 L453.73 323.41 L456.47 323.64 L459.21 323.86 L461.95 324.08 L464.69 324.30 L467.42 324.51 L470.16 324.72 L472.90 324.93 L475.64 325.13 L478.38 325.33 L481.12 325.52 L483.86 325.72 L486.60 325.91 L489.34 326.09 L492.08 326.27 L494.82 326.46 L497.56 326.63 L500.30 326.81" stroke="#000" stroke-width="1.4" fill="none"/>
<g><rect x="75.75" y="22.35" width="5.30" height="5.30" fill="#000"/><rect x="78.49" y="23.04" width="5.30" height="5.30" fill="#000"/><rect x="81.23" y="23.81" width="5.30" height="5.30" fill="#000"/><rect x="83.97" y="24.66" width="5.30" height="5.30" fill="#000"/><rect x="86.71" y="25.60" width="5.30" height="5.30" fill="#000"/><rect x="89.45" y="26.64" width="5.30" height="5.30" fill="#000"/><rect x="92.19" y="27.80" width="5.30" height="5.30" fill="#000"/><rect x="94.93" y="29.07" width="5.30" height="5.30" fill="#000"/><rect x="97.67" y="30.48" width="5.30" height="5.30" fill="#000"/><rect x="100.41" y="32.03" width="5.30" height="5.30" fill="#000"/><rect x="103.15" y="33.74" width="5.30" height="5.30" fill="#000"/><rect x="105.89" y="35.63" width="5.30" height="5.30" fill="#000"/><rect x="108.63" y="37.71" width="5.30" height="5.30" fill="#000"/><rect x="111.36" y="39.98" width="5.30" height="5.30" fill="#000"/><rect x="114.10" y="42.47" width="5.30" height="5.30" fill="#000"/><rect x="116.84" y="45.20" width="5.30" height="5.30" fill="#000"/><rect x="119.58" y="48.17" width="5.30" height="5.30" fill="#000"/><rect x="122.32" y="51.40" width="5.30" height="5.30" fill="#000"/><rect x="125.06" y="54.90" width="5.30" height="5.30" fill="#000"/><rect x="127.80" y="58.69" width="5.30" height="5.30" fill="#000"/><rect x="130.54" y="62.76" width="5.30" height="5.30" fill="#000"/><rect x="133.28" y="67.14" width="5.30" height="5.30" fill="#000"/><rect x="136.02" y="71.80" width="5.30" height="5.30" fill="#000"/><rect x="138.76" y="76.77" width="5.30" height="5.30" fill="#000"/><rect x="141.50" y="82.02" width="5.30" height="5.30" fill="#000"/><rect x="144.24" y="87.55" width="5.30" height="5.30" fill="#000"/><rect x="146.98" y="93.34" width="5.30" height="5.30" fill="#000"/><rect x="149.72" y="99.38" width="5.30" height="5.30" fill="#000"/><rect x="152.46" y="105.63" width="5.30" height="5.30" fill="#000"/><rect x="155.20" y="112.06" width="5.30" height="5.30" fill="#000"/><rect x="157.94" y="118.65" width="5.30" height="5.30" fill="#000"/><rect x="160.68" y="125.36" width="5.30" height="5.30" fill="#000"/><rect x="163.42" y="132.14" width="5.30" height="5.30" fill="#000"/><rect x="166.16" y="138.97" width="5.30" height="5.30" fill="#000"/><rect x="168.90" y="145.79" width="5.30" height="5.30" fill="#000"/><rect x="171.64" y="152.58" width="5.30" height="5.30" fill="#000"/><rect x="174.38" y="159.30" width="5.30" height="5.30" fill="#000"/><rect x="177.12" y="165.90" width="5.30" height="5.30" fill="#000"/><rect x="179.86" y="172.38" width="5.30" height="5.30" fill="#000"/><rect x="182.59" y="178.69" width="5.30" height="5.30" fill="#000"/><rect x="185.33" y="184.81" width="5.30" height="5.30" fill="#000"/><rect x="188.07" y="190.74" width="5.30" height="5.30" fill="#000"/><rect x="190.81" y="196.45" width="5.30" height="5.30" fill="#000"/><rect x="193.55" y="201.94" width="5.30" height="5.30" fill="#000"/><rect x="196.29" y="207.21" width="5.30" height="5.30" fill="#000"/><rect x="199.03" y="212.24" width="5.30" height="5.30" fill="#000"/><rect x="201.77" y="217.05" width="5.30" height="5.30" fill="#000"/><rect x="204.51" y="221.62" width="5.30" height="5.30" fill="#000"/><rect x="207.25" y="225.98" width="5.30" height="5.30" fill="#000"/><rect x="209.99" y="230.12" width="5.30" height="5.30" fill="#000"/><rect x="212.73" y="234.05" width="5.30" height="5.30" fill="#000"/><rect x="215.47" y="237.79" width="5.30" height="5.30" fill="#000"/><rect x="218.21" y="241.33" width="5.30" height="5.30" fill="#000"/><rect x="220.95" y="244.69" width="5.30" height="5.30" fill="#000"/><rect x="223.69" y="247.88" width="5.30" height="5.30" fill="#000"/><rect x="226.43" y="250.90" width="5.30" height="5.30" fill="#000"/><rect x="229.17" y="253.77" width="5.30" height="5.30" fill="#000"/><rect x="231.91" y="256.49" width="5.30" height="5.30" fill="#000"/><rect x="234.65" y="259.08" width="5.30" height="5.30" fill="#000"/><rect x="237.39" y="261.53" width="5.30" height="5.30" fill="#000"/><rect x="240.13" y="263.87" width="5.30" height="5.30" fill="#000"/><rect x="242.87" y="266.09" width="5.30" height="5.30" fill="#000"/><rect x="245.61" y="268.21" width="5.30" height="5.30" fill="#000"/><rect x="248.35" y="270.22" width="5.30" height="5.30" fill="#000"/><rect x="251.09" y="272.14" width="5.30" height="5.30" fill="#000"/><rect x="253.82" y="273.97" width="5.30" height="5.30" fill="#000"/><rect x="256.56" y="275.72" width="5.30" height="5.30" fill="#000"/><rect x="259.30" y="277.39" width="5.30" height="5.30" fill="#000"/><rect x="262.04" y="278.99" width="5.30" height="5.30" fill="#000"/><rect x="264.78" y="280.52" width="5.30" height="5.30" fill="#000"/><rect x="267.52" y="281.98" width="5.30" height="5.30" fill="#000"/><rect x="270.26" y="283.38" width="5.30" height="5.30" fill="#000"/><rect x="273.00" y="284.73" width="5.30" height="5.30" fill="#000"/><rect x="275.74" y="286.02" width="5.30" height="5.30" fill="#000"/><rect x="278.48" y="287.25" width="5.30" height="5.30" fill="#000"/><rect x="281.22" y="288.44" width="5.30" height="5.30" fill="#000"/><rect x="283.96" y="289.59" width="5.30" height="5.30" fill="#000"/><rect x="286.70" y="290.69" width="5.30" height="5.30" fill="#000"/><rect x="289.44" y="291.75" width="5.30" height="5.30" fill="#000"/><rect x="292.18" y="292.77" width="5.30" height="5.30" fill="#000"/><rect x="294.92" y="293.76" width="5.30" height="5.30" fill="#000"/><rect x="297.66" y="294.70" width="5.30" height="5.30" fill="#000"/><rect x="300.40" y="295.62" width="5.30" height="5.30" fill="#000"/><rect x="303.14" y="296.51" width="5.30" height="5.30" fill="#000"/><rect x="305.88" y="297.36" width="5.30" height="5.30" fill="#000"/><rect x="308.62" y="298.19" width="5.30" height="5.30" fill="#000"/><rect x="311.36" y="298.99" width="5.30" height="5.30" fill="#000"/><rect x="314.10" y="299.76" width="5.30" height="5.30" fill="#000"/><rect x="316.84" y="300.51" width="5.30" height="5.30" fill="#000"/><rect x="319.58" y="301.24" width="5.30" height="5.30" fill="#000"/><rect x="322.31" y="301.94" width="5.30" height="5.30" fill="#000"/><rect x="325.05" y="302.62" width="5.30" height="5.30" fill="#000"/><rect x="327.79" y="303.28" width="5.30" height="5.30" fill="#000"/><rect x="330.53" y="303.93" width="5.30" height="5.30" fill="#000"/><rect x="333.27" y="304.55" width="5.30" height="5.30" fill="#000"/><rect x="336.01" y="305.15" width="5.30" height="5.30" fill="#000"/><rect x="338.75" y="305.74" width="5.30" height="5.30" fill="#000"/><rect x="341.49" y="306.31" width="5.30" height="5.30" fill="#000"/><rect x="344.23" y="306.87" width="5.30" height="5.30" fill="#000"/><rect x="346.97" y="307.41" width="5.30" height="5.30" fill="#000"/><rect x="349.71" y="307.94" width="5.30" height="5.30" fill="#000"/><rect x="352.45" y="308.45" width="5.30" height="5.30" fill="#000"/><rect x="355.19" y="308.95" width="5.30" height="5.30" fill="#000"/><rect x="357.93" y="309.44" width="5.30" height="5.30" fill="#000"/><rect x="360.67" y="309.91" width="5.30" height="5.30" fill="#000"/><rect x="363.41" y="310.37" width="5.30" height="5.30" fill="#000"/><rect x="366.15" y="310.82" width="5.30" height="5.30" fill="#000"/><rect x="368.89" y="311.26" width="5.30" height="5.30" fill="#000"/><rect x="371.63" y="311.69" width="5.30" height="5.30" fill="#000"/><rect x="374.37" y="312.11" width="5.30" height="5.30" fill="#000"/><rect x="377.11" y="312.52" width="5.30" height="5.30" fill="#000"/><rect x="379.85" y="312.91" width="5.30" height="5.30" fill="#000"/><rect x="382.59" y="313.30" width="5.30" height="5.30" fill="#000"/><rect x="385.33" y="313.68" width="5.30" height="5.30" fill="#000"/><rect x="388.07" y="314.06" width="5.30" height="5.30" fill="#000"/><rect x="390.81" y="314.42" width="5.30" height="5.30" fill="#000"/><rect x="393.54" y="314.78" width="5.30" height="5.30" fill="#000"/><rect x="396.28" y="315.12" width="5.30" height="5.30" fill="#000"/><rect x="399.02" y="315.46" width="5.30" height="5.30" fill="#000"/><rect x="401.76" y="315.80" width="5.30" height="5.30" fill="#000"/><rect x="404.50" y="316.12" width="5.30" height="5.30" fill="#000"/><rect x="407.24" y="316.44" width="5.30" height="5.30" fill="#000"/><rect x="409.98" y="316.75" width="5.30" height="5.30" fill="#000"/><rect x="412.72" y="317.06" width="5.30" height="5.30" fill="#000"/><rect x="415.46" y="317.36" width="5.30" height="5.30" fill="#000"/><rect x="418.20" y="317.65" width="5.30" height="5.30" fill="#000"/><rect x="420.94" y="317.94" width="5.30" height="5.30" fill="#000"/><rect x="423.68" y="318.22" width="5.30" height="5.30" fill="#000"/><rect x="426.42" y="318.50" width="5.30" height="5.30" fill="#000"/><rect x="429.16" y="318.77" width="5.30" height="5.30" fill="#000"/><rect x="431.90" y="319.03" width="5.30" height="5.30" fill="#000"/><rect x="434.64" y="319.29" width="5.30" height="5.30" fill="#000"/><rect x="437.38" y="319.55" width="5.30" height="5.30" fill="#000"/><rect x="440.12" y="319.80" width="5.30" height="5.30" fill="#000"/><rect x="442.86" y="320.05" width="5.30" height="5.30" fill="#000"/><rect x="445.60" y="320.29" width="5.30" height="5.30" fill="#000"/><rect x="448.34" y="320.52" width="5.30" height="5.30" fill="#000"/><rect x="451.08" y="320.76" width="5.30" height="5.30" fill="#000"/><rect x="453.82" y="320.99" width="5.30" height="5.30" fill="#000"/><rect x="456.56" y="321.21" width="5.30" height="5.30" fill="#000"/><rect x="459.30" y="321.43" width="5.30" height="5.30" fill="#000"/><rect x="462.04" y="321.65" width="5.30" height="5.30" fill="#000"/><rect x="464.77" y="321.86" width="5.30" height="5.30" fill="#000"/><rect x="467.51" y="322.07" width="5.30" height="5.30" fill="#000"/><rect x="470.25" y="322.28" width="5.30" height="5.30" fill="#000"/><rect x="472.99" y="322.48" width="5.30" height="5.30" fill="#000"/><rect x="475.73" y="322.68" width="5.30" height="5.30" fill="#000"/><rect x="478.47" y="322.87" width="5.30" height="5.30" fill="#000"/><rect x="481.21" y="323.07" width="5.30" height="5.30" fill="#000"/><rect x="483.95" y="323.26" width="5.30" height="5.30" fill="#000"/><rect x="486.69" y="323.44" width="5.30" height="5.30" fill="#000"/><rect x="489.43" y="323.62" width="5.30" height="5.30" fill="#000"/><rect x="492.17" y="323.81" width="5.30" height="5.30" fill="#000"/><rect x="494.91" y="323.98" width="5.30" height="5.30" fill="#000"/><rect x="497.65" y="324.16" width="5.30" height="5.30" fill="#000"/></g>
<path d="M78.40 25.00 L81.14 32.92 L83.88 41.09 L86.62 49.48 L89.36 58.03 L92.10 66.71 L94.84 75.46 L97.58 84.22 L100.32 92.95 L103.06 101.61 L105.80 110.14 L108.54 118.51 L111.28 126.68 L114.01 134.63 L116.75 142.33 L119.49 149.76 L122.23 156.91 L124.97 163.77 L127.71 170.34 L130.45 176.61 L133.19 182.59 L135.93 188.29 L138.67 193.71 L141.41 198.86 L144.15 203.76 L146.89 208.40 L149.63 212.81 L152.37 217.00 L155.11 220.98 L157.85 224.75 L160.59 228.34 L163.33 231.74 L166.07 234.98 L168.81 238.07 L171.55 241.00 L174.29 243.80 L177.03 246.47 L179.77 249.01 L182.51 251.44 L185.24 253.76 L187.98 255.98 L190.72 258.11 L193.46 260.15 L196.20 262.10 L198.94 263.97 L201.68 265.77 L204.42 267.50 L207.16 269.17 L209.90 270.77 L212.64 272.31 L215.38 273.79 L218.12 275.23 L220.86 276.61 L223.60 277.94 L226.34 279.23 L229.08 280.48 L231.82 281.69 L234.56 282.86 L237.30 283.99 L240.04 285.08 L242.78 286.14 L245.52 287.17 L248.26 288.17 L251.00 289.14 L253.74 290.09 L256.47 291.00 L259.21 291.89 L261.95 292.75 L264.69 293.60 L267.43 294.41 L270.17 295.21 L272.91 295.99 L275.65 296.74 L278.39 297.48 L281.13 298.20 L283.87 298.90 L286.61 299.58 L289.35 300.24 L292.09 300.89 L294.83 301.53 L297.57 302.15 L300.31 302.75 L303.05 303.34 L305.79 303.92 L308.53 304.48 L311.27 305.03 L314.01 305.57 L316.75 306.10 L319.49 306.62 L322.23 307.12 L324.96 307.62 L327.70 308.10 L330.44 308.57 L333.18 309.04 L335.92 309.49 L338.66 309.93 L341.40 310.37 L344.14 310.80 L346.88 311.22 L349.62 311.63 L352.36 312.03 L355.10 312.42 L357.84 312.81 L360.58 313.19 L363.32 313.56 L366.06 313.93 L368.80 314.29 L371.54 314.64 L374.28 314.99 L377.02 315.33 L379.76 315.66 L382.50 315.99 L385.24 316.31 L387.98 316.63 L390.72 316.94 L393.46 317.24 L396.19 317.54 L398.93 317.84 L401.67 318.13 L404.41 318.41 L407.15 318.70 L409.89 318.97 L412.63 319.24 L415.37 319.51 L418.11 319.77 L420.85 320.03 L423.59 320.29 L426.33 320.54 L429.07 320.79 L431.81 321.03 L434.55 321.27 L437.29 321.51 L440.03 321.74 L442.77 321.97 L445.51 322.19 L448.25 322.41 L450.99 322.63 L453.73 322.85 L456.47 323.06 L459.21 323.27 L461.95 323.48 L464.69 323.68 L467.42 323.88 L470.16 324.08 L472.90 324.28 L475.64 324.47 L478.38 324.66 L481.12 324.85 L483.86 325.03 L486.60 325.21 L489.34 325.39 L492.08 325.57 L494.82 325.75 L497.56 325.92 L500.30 326.09" stroke="#444" stroke-width="0.9" fill="none"/>
<g><circle cx="78.40" cy="25.00" r="2.60" fill="none" stroke="#000" stroke-width="1.55"/><circle cx="81.14" cy="32.92" r="2.60" fill="none" stroke="#000" stroke-width="1.55"/><circle cx="83.88" cy="41.09" r="2.60" fill="none" stroke="#000" stroke-width="1.55"/><circle cx="86.62" cy="49.48" r="2.60" fill="none" stroke="#000" stroke-width="1.55"/><circle cx="89.36" cy="58.03" r="2.60" fill="none" stroke="#000" stroke-width="1.55"/><circle cx="92.10" cy="66.71" r="2.60" fill="none" stroke="#000" stroke-width="1.55"/><circle cx="94.84" cy="75.46" r="2.60" fill="none" stroke="#000" stroke-width="1.55"/><circle cx="97.58" cy="84.22" r="2.60" fill="none" stroke="#000" stroke-width="1.55"/><circle cx="100.32" cy="92.95" r="2.60" fill="none" stroke="#000" stroke-width="1.55"/><circle cx="103.06" cy="101.61" r="2.60" fill="none" stroke="#000" stroke-width="1.55"/><circle cx="105.80" cy="110.14" r="2.60" fill="none" stroke="#000" stroke-width="1.55"/><circle cx="108.54" cy="118.51" r="2.60" fill="none" stroke="#000" stroke-width="1.55"/><circle cx="111.28" cy="126.68" r="2.60" fill="none" stroke="#000" stroke-width="1.55"/><circle cx="114.01" cy="134.63" r="2.60" fill="none" stroke="#000" stroke-width="1.55"/><circle cx="116.75" cy="142.33" r="2.60" fill="none" stroke="#000" stroke-width="1.55"/><circle cx="119.49" cy="149.76" r="2.60" fill="none" stroke="#000" stroke-width="1.55"/><circle cx="122.23" cy="156.91" r="2.60" fill="none" stroke="#000" stroke-width="1.55"/><circle cx="124.97" cy="163.77" r="2.60" fill="none" stroke="#000" stroke-width="1.55"/><circle cx="127.71" cy="170.34" r="2.60" fill="none" stroke="#000" stroke-width="1.55"/><circle cx="130.45" cy="176.61" r="2.60" fill="none" stroke="#000" stroke-width="1.55"/><circle cx="133.19" cy="182.59" r="2.60" fill="none" stroke="#000" stroke-width="1.55"/><circle cx="135.93" cy="188.29" r="2.60" fill="none" stroke="#000" stroke-width="1.55"/><circle cx="138.67" cy="193.71" r="2.60" fill="none" stroke="#000" stroke-width="1.55"/><circle cx="141.41" cy="198.86" r="2.60" fill="none" stroke="#000" stroke-width="1.55"/><circle cx="144.15" cy="203.76" r="2.60" fill="none" stroke="#000" stroke-width="1.55"/><circle cx="146.89" cy="208.40" r="2.60" fill="none" stroke="#000" stroke-width="1.55"/><circle cx="149.63" cy="212.81" r="2.60" fill="none" stroke="#000" stroke-width="1.55"/><circle cx="152.37" cy="217.00" r="2.60" fill="none" stroke="#000" stroke-width="1.55"/><circle cx="155.11" cy="220.98" r="2.60" fill="none" stroke="#000" stroke-width="1.55"/><circle cx="157.85" cy="224.75" r="2.60" fill="none" stroke="#000" stroke-width="1.55"/><circle cx="160.59" cy="228.34" r="2.60" fill="none" stroke="#000" stroke-width="1.55"/><circle cx="163.33" cy="231.74" r="2.60" fill="none" stroke="#000" stroke-width="1.55"/><circle cx="166.07" cy="234.98" r="2.60" fill="none" stroke="#000" stroke-width="1.55"/><circle cx="168.81" cy="238.07" r="2.60" fill="none" stroke="#000" stroke-width="1.55"/><circle cx="171.55" cy="241.00" r="2.60" fill="none" stroke="#000" stroke-width="1.55"/><circle cx="174.29" cy="243.80" r="2.60" fill="none" stroke="#000" stroke-width="1.55"/><circle cx="177.03" cy="246.47" r="2.60" fill="none" stroke="#000" stroke-width="1.55"/><circle cx="179.77" cy="249.01" r="2.60" fill="none" stroke="#000" stroke-width="1.55"/><circle cx="182.51" cy="251.44" r="2.60" fill="none" stroke="#000" stroke-width="1.55"/><circle cx="185.24" cy="253.76" r="2.60" fill="none" stroke="#000" stroke-width="1.55"/><circle cx="187.98" cy="255.98" r="2.60" fill="none" stroke="#000" stroke-width="1.55"/><circle cx="190.72" cy="258.11" r="2.60" fill="none" stroke="#000" stroke-width="1.55"/><circle cx="193.46" cy="260.15" r="2.60" fill="none" stroke="#000" stroke-width="1.55"/><circle cx="196.20" cy="262.10" r="2.60" fill="none" stroke="#000" stroke-width="1.55"/><circle cx="198.94" cy="263.97" r="2.60" fill="none" stroke="#000" stroke-width="1.55"/><circle cx="201.68" cy="265.77" r="2.60" fill="none" stroke="#000" stroke-width="1.55"/><circle cx="204.42" cy="267.50" r="2.60" fill="none" stroke="#000" stroke-width="1.55"/><circle cx="207.16" cy="269.17" r="2.60" fill="none" stroke="#000" stroke-width="1.55"/><circle cx="209.90" cy="270.77" r="2.60" fill="none" stroke="#000" stroke-width="1.55"/><circle cx="212.64" cy="272.31" r="2.60" fill="none" stroke="#000" stroke-width="1.55"/><circle cx="215.38" cy="273.79" r="2.60" fill="none" stroke="#000" stroke-width="1.55"/><circle cx="218.12" cy="275.23" r="2.60" fill="none" stroke="#000" stroke-width="1.55"/><circle cx="220.86" cy="276.61" r="2.60" fill="none" stroke="#000" stroke-width="1.55"/><circle cx="223.60" cy="277.94" r="2.60" fill="none" stroke="#000" stroke-width="1.55"/><circle cx="226.34" cy="279.23" r="2.60" fill="none" stroke="#000" stroke-width="1.55"/><circle cx="229.08" cy="280.48" r="2.60" fill="none" stroke="#000" stroke-width="1.55"/><circle cx="231.82" cy="281.69" r="2.60" fill="none" stroke="#000" stroke-width="1.55"/><circle cx="234.56" cy="282.86" r="2.60" fill="none" stroke="#000" stroke-width="1.55"/><circle cx="237.30" cy="283.99" r="2.60" fill="none" stroke="#000" stroke-width="1.55"/><circle cx="240.04" cy="285.08" r="2.60" fill="none" stroke="#000" stroke-width="1.55"/><circle cx="242.78" cy="286.14" r="2.60" fill="none" stroke="#000" stroke-width="1.55"/><circle cx="245.52" cy="287.17" r="2.60" fill="none" stroke="#000" stroke-width="1.55"/><circle cx="248.26" cy="288.17" r="2.60" fill="none" stroke="#000" stroke-width="1.55"/><circle cx="251.00" cy="289.14" r="2.60" fill="none" stroke="#000" stroke-width="1.55"/><circle cx="253.74" cy="290.09" r="2.60" fill="none" stroke="#000" stroke-width="1.55"/><circle cx="256.47" cy="291.00" r="2.60" fill="none" stroke="#000" stroke-width="1.55"/><circle cx="259.21" cy="291.89" r="2.60" fill="none" stroke="#000" stroke-width="1.55"/><circle cx="261.95" cy="292.75" r="2.60" fill="none" stroke="#000" stroke-width="1.55"/><circle cx="264.69" cy="293.60" r="2.60" fill="none" stroke="#000" stroke-width="1.55"/><circle cx="267.43" cy="294.41" r="2.60" fill="none" stroke="#000" stroke-width="1.55"/><circle cx="270.17" cy="295.21" r="2.60" fill="none" stroke="#000" stroke-width="1.55"/><circle cx="272.91" cy="295.99" r="2.60" fill="none" stroke="#000" stroke-width="1.55"/><circle cx="275.65" cy="296.74" r="2.60" fill="none" stroke="#000" stroke-width="1.55"/><circle cx="278.39" cy="297.48" r="2.60" fill="none" stroke="#000" stroke-width="1.55"/><circle cx="281.13" cy="298.20" r="2.60" fill="none" stroke="#000" stroke-width="1.55"/><circle cx="283.87" cy="298.90" r="2.60" fill="none" stroke="#000" stroke-width="1.55"/><circle cx="286.61" cy="299.58" r="2.60" fill="none" stroke="#000" stroke-width="1.55"/><circle cx="289.35" cy="300.24" r="2.60" fill="none" stroke="#000" stroke-width="1.55"/><circle cx="292.09" cy="300.89" r="2.60" fill="none" stroke="#000" stroke-width="1.55"/><circle cx="294.83" cy="301.53" r="2.60" fill="none" stroke="#000" stroke-width="1.55"/><circle cx="297.57" cy="302.15" r="2.60" fill="none" stroke="#000" stroke-width="1.55"/><circle cx="300.31" cy="302.75" r="2.60" fill="none" stroke="#000" stroke-width="1.55"/><circle cx="303.05" cy="303.34" r="2.60" fill="none" stroke="#000" stroke-width="1.55"/><circle cx="305.79" cy="303.92" r="2.60" fill="none" stroke="#000" stroke-width="1.55"/><circle cx="308.53" cy="304.48" r="2.60" fill="none" stroke="#000" stroke-width="1.55"/><circle cx="311.27" cy="305.03" r="2.60" fill="none" stroke="#000" stroke-width="1.55"/><circle cx="314.01" cy="305.57" r="2.60" fill="none" stroke="#000" stroke-width="1.55"/><circle cx="316.75" cy="306.10" r="2.60" fill="none" stroke="#000" stroke-width="1.55"/><circle cx="319.49" cy="306.62" r="2.60" fill="none" stroke="#000" stroke-width="1.55"/><circle cx="322.23" cy="307.12" r="2.60" fill="none" stroke="#000" stroke-width="1.55"/><circle cx="324.96" cy="307.62" r="2.60" fill="none" stroke="#000" stroke-width="1.55"/><circle cx="327.70" cy="308.10" r="2.60" fill="none" stroke="#000" stroke-width="1.55"/><circle cx="330.44" cy="308.57" r="2.60" fill="none" stroke="#000" stroke-width="1.55"/><circle cx="333.18" cy="309.04" r="2.60" fill="none" stroke="#000" stroke-width="1.55"/><circle cx="335.92" cy="309.49" r="2.60" fill="none" stroke="#000" stroke-width="1.55"/><circle cx="338.66" cy="309.93" r="2.60" fill="none" stroke="#000" stroke-width="1.55"/><circle cx="341.40" cy="310.37" r="2.60" fill="none" stroke="#000" stroke-width="1.55"/><circle cx="344.14" cy="310.80" r="2.60" fill="none" stroke="#000" stroke-width="1.55"/><circle cx="346.88" cy="311.22" r="2.60" fill="none" stroke="#000" stroke-width="1.55"/><circle cx="349.62" cy="311.63" r="2.60" fill="none" stroke="#000" stroke-width="1.55"/><circle cx="352.36" cy="312.03" r="2.60" fill="none" stroke="#000" stroke-width="1.55"/><circle cx="355.10" cy="312.42" r="2.60" fill="none" stroke="#000" stroke-width="1.55"/><circle cx="357.84" cy="312.81" r="2.60" fill="none" stroke="#000" stroke-width="1.55"/><circle cx="360.58" cy="313.19" r="2.60" fill="none" stroke="#000" stroke-width="1.55"/><circle cx="363.32" cy="313.56" r="2.60" fill="none" stroke="#000" stroke-width="1.55"/><circle cx="366.06" cy="313.93" r="2.60" fill="none" stroke="#000" stroke-width="1.55"/><circle cx="368.80" cy="314.29" r="2.60" fill="none" stroke="#000" stroke-width="1.55"/><circle cx="371.54" cy="314.64" r="2.60" fill="none" stroke="#000" stroke-width="1.55"/><circle cx="374.28" cy="314.99" r="2.60" fill="none" stroke="#000" stroke-width="1.55"/><circle cx="377.02" cy="315.33" r="2.60" fill="none" stroke="#000" stroke-width="1.55"/><circle cx="379.76" cy="315.66" r="2.60" fill="none" stroke="#000" stroke-width="1.55"/><circle cx="382.50" cy="315.99" r="2.60" fill="none" stroke="#000" stroke-width="1.55"/><circle cx="385.24" cy="316.31" r="2.60" fill="none" stroke="#000" stroke-width="1.55"/><circle cx="387.98" cy="316.63" r="2.60" fill="none" stroke="#000" stroke-width="1.55"/><circle cx="390.72" cy="316.94" r="2.60" fill="none" stroke="#000" stroke-width="1.55"/><circle cx="393.46" cy="317.24" r="2.60" fill="none" stroke="#000" stroke-width="1.55"/><circle cx="396.19" cy="317.54" r="2.60" fill="none" stroke="#000" stroke-width="1.55"/><circle cx="398.93" cy="317.84" r="2.60" fill="none" stroke="#000" stroke-width="1.55"/><circle cx="401.67" cy="318.13" r="2.60" fill="none" stroke="#000" stroke-width="1.55"/><circle cx="404.41" cy="318.41" r="2.60" fill="none" stroke="#000" stroke-width="1.55"/><circle cx="407.15" cy="318.70" r="2.60" fill="none" stroke="#000" stroke-width="1.55"/><circle cx="409.89" cy="318.97" r="2.60" fill="none" stroke="#000" stroke-width="1.55"/><circle cx="412.63" cy="319.24" r="2.60" fill="none" stroke="#000" stroke-width="1.55"/><circle cx="415.37" cy="319.51" r="2.60" fill="none" stroke="#000" stroke-width="1.55"/><circle cx="418.11" cy="319.77" r="2.60" fill="none" stroke="#000" stroke-width="1.55"/><circle cx="420.85" cy="320.03" r="2.60" fill="none" stroke="#000" stroke-width="1.55"/><circle cx="423.59" cy="320.29" r="2.60" fill="none" stroke="#000" stroke-width="1.55"/><circle cx="426.33" cy="320.54" r="2.60" fill="none" stroke="#000" stroke-width="1.55"/><circle cx="429.07" cy="320.79" r="2.60" fill="none" stroke="#000" stroke-width="1.55"/><circle cx="431.81" cy="321.03" r="2.60" fill="none" stroke="#000" stroke-width="1.55"/><circle cx="434.55" cy="321.27" r="2.60" fill="none" stroke="#000" stroke-width="1.55"/><circle cx="437.29" cy="321.51" r="2.60" fill="none" stroke="#000" stroke-width="1.55"/><circle cx="440.03" cy="321.74" r="2.60" fill="none" stroke="#000" stroke-width="1.55"/><circle cx="442.77" cy="321.97" r="2.60" fill="none" stroke="#000" stroke-width="1.55"/><circle cx="445.51" cy="322.19" r="2.60" fill="none" stroke="#000" stroke-width="1.55"/><circle cx="448.25" cy="322.41" r="2.60" fill="none" stroke="#000" stroke-width="1.55"/><circle cx="450.99" cy="322.63" r="2.60" fill="none" stroke="#000" stroke-width="1.55"/><circle cx="453.73" cy="322.85" r="2.60" fill="none" stroke="#000" stroke-width="1.55"/><circle cx="456.47" cy="323.06" r="2.60" fill="none" stroke="#000" stroke-width="1.55"/><circle cx="459.21" cy="323.27" r="2.60" fill="none" stroke="#000" stroke-width="1.55"/><circle cx="461.95" cy="323.48" r="2.60" fill="none" stroke="#000" stroke-width="1.55"/><circle cx="464.69" cy="323.68" r="2.60" fill="none" stroke="#000" stroke-width="1.55"/><circle cx="467.42" cy="323.88" r="2.60" fill="none" stroke="#000" stroke-width="1.55"/><circle cx="470.16" cy="324.08" r="2.60" fill="none" stroke="#000" stroke-width="1.55"/><circle cx="472.90" cy="324.28" r="2.60" fill="none" stroke="#000" stroke-width="1.55"/><circle cx="475.64" cy="324.47" r="2.60" fill="none" stroke="#000" stroke-width="1.55"/><circle cx="478.38" cy="324.66" r="2.60" fill="none" stroke="#000" stroke-width="1.55"/><circle cx="481.12" cy="324.85" r="2.60" fill="none" stroke="#000" stroke-width="1.55"/><circle cx="483.86" cy="325.03" r="2.60" fill="none" stroke="#000" stroke-width="1.55"/><circle cx="486.60" cy="325.21" r="2.60" fill="none" stroke="#000" stroke-width="1.55"/><circle cx="489.34" cy="325.39" r="2.60" fill="none" stroke="#000" stroke-width="1.55"/><circle cx="492.08" cy="325.57" r="2.60" fill="none" stroke="#000" stroke-width="1.55"/><circle cx="494.82" cy="325.75" r="2.60" fill="none" stroke="#000" stroke-width="1.55"/><circle cx="497.56" cy="325.92" r="2.60" fill="none" stroke="#000" stroke-width="1.55"/><circle cx="500.30" cy="326.09" r="2.60" fill="none" stroke="#000" stroke-width="1.55"/></g>
<path d="M372.2 66.5 H418.5" stroke="#000" stroke-width="1.45"/>
<path d="M372.2 102.2 H418.5" stroke="#000" stroke-width="1.4" stroke-dasharray="5.6 3.7 1.6 3.8"/>
<path d="M372.2 137.3 H418.5" stroke="#000" stroke-width="2.9" stroke-dasharray="10.5 8.4"/>
<path d="M372.2 172.9 H418.5" stroke="#000" stroke-width="1.45"/>
<path d="M392.60 170.10 L398.20 175.70 M392.60 175.70 L398.20 170.10 M395.40 170.10 L395.40 175.70" stroke="#000" stroke-width="1.35" fill="none"/>
<path d="M372.2 208.5 H418.5" stroke="#000" stroke-width="1.45"/>
<rect x="392.75" y="205.85" width="5.30" height="5.30" fill="#000"/>
<path d="M372.2 243.6 H418.5" stroke="#8c8c8c" stroke-width="1.1"/>
<circle cx="395.40" cy="243.60" r="2.60" fill="none" stroke="#000" stroke-width="1.55"/>
<text x="422.8" y="71.4" font-family='"Liberation Sans", Arial, sans-serif' font-size="13.9" stroke="#000" stroke-width="0.22" textLength="44.0" lengthAdjust="spacingAndGlyphs">af = 20</text>
<text x="422.8" y="107.1" font-family='"Liberation Sans", Arial, sans-serif' font-size="13.9" stroke="#000" stroke-width="0.22" textLength="44.0" lengthAdjust="spacingAndGlyphs">af = 10</text>
<text x="422.8" y="142.2" font-family='"Liberation Sans", Arial, sans-serif' font-size="13.9" stroke="#000" stroke-width="0.22" textLength="36.3" lengthAdjust="spacingAndGlyphs">af = 5</text>
<text x="422.8" y="177.8" font-family='"Liberation Sans", Arial, sans-serif' font-size="13.9" stroke="#000" stroke-width="0.22" textLength="36.3" lengthAdjust="spacingAndGlyphs">af = 1</text>
<text x="422.8" y="213.4" font-family='"Liberation Sans", Arial, sans-serif' font-size="13.9" stroke="#000" stroke-width="0.22" textLength="48.3" lengthAdjust="spacingAndGlyphs">af = 0.5</text>
<text x="422.8" y="248.5" font-family='"Liberation Sans", Arial, sans-serif' font-size="13.9" stroke="#000" stroke-width="0.22" textLength="48.3" lengthAdjust="spacingAndGlyphs">af = 0.1</text>
</g>
<text y="434.2" font-family='"Liberation Serif", "Times New Roman", serif' font-size="16.5"><tspan x="263.6" font-size="18">(</tspan><tspan x="270.3" font-weight="bold">a</tspan><tspan x="279.6" font-size="18">)</tspan></text>
<g id="panel-b">
<rect x="129.40" y="458.70" width="382.80" height="319.30" fill="none" stroke="#000" stroke-width="1.7"/>
<path d="M125.20 778.00 H134.40 M125.20 765.23 H129.40 M125.20 752.46 H129.40 M125.20 739.68 H129.40 M125.20 726.91 H129.40 M125.20 714.14 H134.40 M125.20 701.37 H129.40 M125.20 688.60 H129.40 M125.20 675.82 H129.40 M125.20 663.05 H129.40 M125.20 650.28 H134.40 M125.20 637.51 H129.40 M125.20 624.74 H129.40 M125.20 611.96 H129.40 M125.20 599.19 H129.40 M125.20 586.42 H134.40 M125.20 573.65 H129.40 M125.20 560.88 H129.40 M125.20 548.10 H129.40 M125.20 535.33 H129.40 M125.20 522.56 H134.40 M125.20 509.79 H129.40 M125.20 497.02 H129.40 M125.20 484.24 H129.40 M125.20 471.47 H129.40 M125.20 458.70 H134.40 M129.40 772.80 V782.10 M167.81 778.00 V782.10 M190.28 778.00 V782.10 M206.22 778.00 V782.10 M218.59 778.00 V782.10 M228.69 778.00 V782.10 M237.23 778.00 V782.10 M244.63 778.00 V782.10 M251.16 778.00 V782.10 M257.00 772.80 V782.10 M295.41 778.00 V782.10 M317.88 778.00 V782.10 M333.82 778.00 V782.10 M346.19 778.00 V782.10 M356.29 778.00 V782.10 M364.83 778.00 V782.10 M372.23 778.00 V782.10 M378.76 778.00 V782.10 M384.60 772.80 V782.10 M423.01 778.00 V782.10 M445.48 778.00 V782.10 M461.42 778.00 V782.10 M473.79 778.00 V782.10 M483.89 778.00 V782.10 M492.43 778.00 V782.10 M499.83 778.00 V782.10 M506.36 778.00 V782.10 M512.20 772.80 V782.10" stroke="#000" stroke-width="1.4" fill="none"/>
<text x="113.2" y="783.70" font-family='"Liberation Serif", "Times New Roman", serif' font-size="17.9" text-anchor="end">0</text>
<text x="113.2" y="719.84" font-family='"Liberation Serif", "Times New Roman", serif' font-size="17.9" text-anchor="end">0.000002</text>
<text x="113.2" y="655.98" font-family='"Liberation Serif", "Times New Roman", serif' font-size="17.9" text-anchor="end">0.000004</text>
<text x="113.2" y="592.12" font-family='"Liberation Serif", "Times New Roman", serif' font-size="17.9" text-anchor="end">0.000006</text>
<text x="113.2" y="528.26" font-family='"Liberation Serif", "Times New Roman", serif' font-size="17.9" text-anchor="end">0.000008</text>
<text x="113.2" y="464.40" font-family='"Liberation Serif", "Times New Roman", serif' font-size="17.9" text-anchor="end">0.00001</text>
<text x="129.30" y="804.6" font-family='"Liberation Serif", "Times New Roman", serif' font-size="17.9" text-anchor="middle">1</text>
<text x="256.90" y="804.6" font-family='"Liberation Serif", "Times New Roman", serif' font-size="17.9" text-anchor="middle">10</text>
<text x="384.50" y="804.6" font-family='"Liberation Serif", "Times New Roman", serif' font-size="17.9" text-anchor="middle">100</text>
<text x="512.10" y="804.6" font-family='"Liberation Serif", "Times New Roman", serif' font-size="17.9" text-anchor="middle">1000</text>
<text x="305" y="832.6" font-family='"Liberation Serif", "Times New Roman", serif' font-size="18" text-anchor="middle" textLength="98.9" lengthAdjust="spacingAndGlyphs">Suction (kPa)</text>
<text transform="translate(28.4 615.4) rotate(-90)" font-family='"Liberation Serif", "Times New Roman", serif' font-size="18.5" text-anchor="middle" textLength="216.5" lengthAdjust="spacingAndGlyphs">Permeability coefficient (m/s)</text>
<path d="M219.20 468.38 L220.01 468.58 L220.82 468.77 L221.63 468.96 L222.43 469.15 L223.24 469.34 L224.05 469.53 L224.86 469.72 L225.67 469.92 L226.48 470.11 L227.29 470.30 L228.10 470.50 L228.90 470.70 L229.71 470.91 L230.52 471.11 L231.33 471.32 L232.14 471.54 L232.95 471.76 L233.76 471.98 L234.57 472.21 L235.37 472.44 L236.18 472.68 L236.99 472.93 L237.80 473.18 L238.61 473.45 L239.42 473.71 L240.23 473.99 L241.03 474.28 L241.84 474.57 L242.65 474.87 L243.46 475.18 L244.27 475.51 L245.08 475.84 L245.89 476.18 L246.70 476.53 L247.50 476.90 L248.31 477.28 L249.12 477.67 L249.93 478.07 L250.74 478.48 L251.55 478.91 L252.36 479.35 L253.17 479.81 L253.97 480.28 L254.78 480.77 L255.59 481.27 L256.40 481.78 L257.21 482.32 L258.02 482.86 L258.83 483.43 L259.63 484.01 L260.44 484.61 L261.25 485.23 L262.06 485.87 L262.87 486.52 L263.68 487.20 L264.49 487.89 L265.30 488.61 L266.10 489.34 L266.91 490.10 L267.72 490.87 L268.53 491.67 L269.34 492.49 L270.15 493.33 L270.96 494.20 L271.77 495.08 L272.57 495.99 L273.38 496.93 L274.19 497.89 L275.00 498.87 L275.81 499.88 L276.62 500.91 L277.43 501.97 L278.23 503.05 L279.04 504.16 L279.85 505.30 L280.66 506.46 L281.47 507.65 L282.28 508.86 L283.09 510.09 L283.90 511.34 L284.70 512.62 L285.51 513.92 L286.32 515.23 L287.13 516.57 L287.94 517.93 L288.75 519.30 L289.56 520.70 L290.37 522.11 L291.17 523.54 L291.98 524.99 L292.79 526.45 L293.60 527.92 L294.41 529.41 L295.22 530.92 L296.03 532.44 L296.83 533.97 L297.64 535.51 L298.45 537.06 L299.26 538.63 L300.07 540.20 L300.88 541.79 L301.69 543.38 L302.50 544.99 L303.30 546.60 L304.11 548.22 L304.92 549.84 L305.73 551.47 L306.54 553.11 L307.35 554.75 L308.16 556.40 L308.97 558.06 L309.77 559.71 L310.58 561.37 L311.39 563.03 L312.20 564.70 L313.01 566.37 L313.82 568.03 L314.63 569.70 L315.43 571.37 L316.24 573.04 L317.05 574.71 L317.86 576.37 L318.67 578.04 L319.48 579.70 L320.29 581.36 L321.10 583.01 L321.90 584.66 L322.71 586.31 L323.52 587.95 L324.33 589.59 L325.14 591.22 L325.95 592.84 L326.76 594.45 L327.57 596.06 L328.37 597.66 L329.18 599.25 L329.99 600.83 L330.80 602.41 L331.61 603.97 L332.42 605.52 L333.23 607.06 L334.03 608.59 L334.84 610.11 L335.65 611.61 L336.46 613.11 L337.27 614.60 L338.08 616.07 L338.89 617.54 L339.70 618.99 L340.50 620.43 L341.31 621.87 L342.12 623.29 L342.93 624.70 L343.74 626.10 L344.55 627.49 L345.36 628.87 L346.17 630.23 L346.97 631.59 L347.78 632.93 L348.59 634.27 L349.40 635.59 L350.21 636.90 L351.02 638.21 L351.83 639.50 L352.63 640.78 L353.44 642.04 L354.25 643.30 L355.06 644.55 L355.87 645.78 L356.68 647.01 L357.49 648.22 L358.30 649.42 L359.10 650.61 L359.91 651.80 L360.72 652.96 L361.53 654.12 L362.34 655.27 L363.15 656.40 L363.96 657.53 L364.77 658.64 L365.57 659.74 L366.38 660.83 L367.19 661.91 L368.00 662.98 L368.81 664.04 L369.62 665.08 L370.43 666.12 L371.23 667.14 L372.04 668.15 L372.85 669.16 L373.66 670.14 L374.47 671.12 L375.28 672.09 L376.09 673.04 L376.90 673.99 L377.70 674.92 L378.51 675.84 L379.32 676.75 L380.13 677.65 L380.94 678.54 L381.75 679.41 L382.56 680.28 L383.37 681.13 L384.17 681.97 L384.98 682.80 L385.79 683.62 L386.60 684.43 L387.41 685.22 L388.22 686.01 L389.03 686.78 L389.83 687.54 L390.64 688.29 L391.45 689.03 L392.26 689.75 L393.07 690.47 L393.88 691.17 L394.69 691.86 L395.50 692.54 L396.30 693.21 L397.11 693.86 L397.92 694.51 L398.73 695.14 L399.54 695.76 L400.35 696.37 L401.16 696.97 L401.97 697.56 L402.77 698.14 L403.58 698.70 L404.39 699.26 L405.20 699.81 L406.01 700.34 L406.82 700.87 L407.63 701.39 L408.43 701.89 L409.24 702.39 L410.05 702.88 L410.86 703.36 L411.67 703.83 L412.48 704.30 L413.29 704.75 L414.10 705.20 L414.90 705.64 L415.71 706.07 L416.52 706.49 L417.33 706.91 L418.14 707.31 L418.95 707.72 L419.76 708.11 L420.57 708.50 L421.37 708.88 L422.18 709.25 L422.99 709.62 L423.80 709.99 L424.61 710.34 L425.42 710.69 L426.23 711.04 L427.03 711.38 L427.84 711.72 L428.65 712.05 L429.46 712.37 L430.27 712.70 L431.08 713.01 L431.89 713.33 L432.70 713.63 L433.50 713.94 L434.31 714.24 L435.12 714.54 L435.93 714.83 L436.74 715.13 L437.55 715.42 L438.36 715.70 L439.17 715.99 L439.97 716.27 L440.78 716.55 L441.59 716.82 L442.40 717.10 L443.21 717.37 L444.02 717.65 L444.83 717.92 L445.63 718.19 L446.44 718.46 L447.25 718.73 L448.06 719.00 L448.87 719.26 L449.68 719.53 L450.49 719.80 L451.30 720.07 L452.10 720.34 L452.91 720.60 L453.72 720.87 L454.53 721.15 L455.34 721.42 L456.15 721.69 L456.96 721.97 L457.77 722.24 L458.57 722.52 L459.38 722.80 L460.19 723.08 L461.00 723.37" stroke="#000" stroke-width="1.85" fill="none" stroke-linejoin="round"/>
<path d="M160.70 463.94 L161.70 464.32 L162.71 464.70 L163.71 465.07 L164.72 465.44 L165.72 465.80 L166.73 466.16 L167.73 466.51 L168.73 466.86 L169.74 467.21 L170.74 467.55 L171.75 467.89 L172.75 468.23 L173.76 468.57 L174.76 468.90 L175.77 469.23 L176.77 469.56 L177.77 469.89 L178.78 470.22 L179.78 470.55 L180.79 470.88 L181.79 471.21 L182.80 471.54 L183.80 471.87 L184.80 472.20 L185.81 472.53 L186.81 472.87 L187.82 473.21 L188.82 473.55 L189.83 473.89 L190.83 474.23 L191.83 474.58 L192.84 474.94 L193.84 475.29 L194.85 475.65 L195.85 476.02 L196.86 476.39 L197.86 476.76 L198.87 477.15 L199.87 477.53 L200.87 477.93 L201.88 478.33 L202.88 478.73 L203.89 479.15 L204.89 479.57 L205.90 480.00 L206.90 480.44 L207.90 480.88 L208.91 481.34 L209.91 481.80 L210.92 482.27 L211.92 482.75 L212.93 483.25 L213.93 483.75 L214.93 484.26 L215.94 484.79 L216.94 485.32 L217.95 485.87 L218.95 486.43 L219.96 487.00 L220.96 487.58 L221.97 488.18 L222.97 488.79 L223.97 489.41 L224.98 490.05 L225.98 490.70 L226.99 491.36 L227.99 492.04 L229.00 492.73 L230.00 493.44 L231.00 494.17 L232.01 494.91 L233.01 495.67 L234.02 496.44 L235.02 497.23 L236.03 498.04 L237.03 498.87 L238.03 499.72 L239.04 500.59 L240.04 501.48 L241.05 502.40 L242.05 503.34 L243.06 504.31 L244.06 505.32 L245.07 506.35 L246.07 507.41 L247.07 508.51 L248.08 509.64 L249.08 510.81 L250.09 512.02 L251.09 513.26 L252.10 514.55 L253.10 515.87 L254.10 517.24 L255.11 518.66 L256.11 520.12 L257.12 521.63 L258.12 523.19 L259.13 524.80 L260.13 526.46 L261.13 528.17 L262.14 529.94 L263.14 531.76 L264.15 533.64 L265.15 535.58 L266.16 537.56 L267.16 539.59 L268.17 541.66 L269.17 543.78 L270.17 545.94 L271.18 548.14 L272.18 550.37 L273.19 552.63 L274.19 554.92 L275.20 557.24 L276.20 559.59 L277.20 561.95 L278.21 564.34 L279.21 566.74 L280.22 569.16 L281.22 571.59 L282.23 574.03 L283.23 576.47 L284.23 578.92 L285.24 581.37 L286.24 583.82 L287.25 586.27 L288.25 588.71 L289.26 591.15 L290.26 593.57 L291.27 595.99 L292.27 598.39 L293.27 600.78 L294.28 603.15 L295.28 605.50 L296.29 607.83 L297.29 610.14 L298.30 612.42 L299.30 614.68 L300.30 616.91 L301.31 619.10 L302.31 621.27 L303.32 623.40 L304.32 625.49 L305.33 627.55 L306.33 629.57 L307.33 631.54 L308.34 633.47 L309.34 635.35 L310.35 637.19 L311.35 638.97 L312.36 640.71 L313.36 642.39 L314.37 644.03 L315.37 645.62 L316.37 647.16 L317.38 648.66 L318.38 650.12 L319.39 651.54 L320.39 652.91 L321.40 654.25 L322.40 655.55 L323.40 656.82 L324.41 658.05 L325.41 659.25 L326.42 660.41 L327.42 661.55 L328.43 662.66 L329.43 663.74 L330.43 664.79 L331.44 665.82 L332.44 666.83 L333.45 667.82 L334.45 668.78 L335.46 669.73 L336.46 670.65 L337.47 671.56 L338.47 672.46 L339.47 673.34 L340.48 674.22 L341.48 675.08 L342.49 675.93 L343.49 676.77 L344.50 677.61 L345.50 678.44 L346.50 679.26 L347.51 680.09 L348.51 680.91 L349.52 681.74 L350.52 682.56 L351.53 683.39 L352.53 684.22 L353.53 685.06 L354.54 685.90 L355.54 686.75 L356.55 687.59 L357.55 688.44 L358.56 689.29 L359.56 690.14 L360.57 690.99 L361.57 691.84 L362.57 692.69 L363.58 693.54 L364.58 694.38 L365.59 695.22 L366.59 696.06 L367.60 696.89 L368.60 697.72 L369.60 698.55 L370.61 699.37 L371.61 700.18 L372.62 700.98 L373.62 701.78 L374.63 702.57 L375.63 703.35 L376.63 704.12 L377.64 704.88 L378.64 705.63 L379.65 706.36 L380.65 707.09 L381.66 707.80 L382.66 708.50 L383.67 709.19 L384.67 709.86 L385.67 710.52 L386.68 711.17 L387.68 711.79 L388.69 712.41 L389.69 713.01 L390.70 713.59 L391.70 714.17 L392.70 714.73 L393.71 715.27 L394.71 715.81 L395.72 716.33 L396.72 716.84 L397.73 717.33 L398.73 717.82 L399.73 718.29 L400.74 718.75 L401.74 719.20 L402.75 719.64 L403.75 720.07 L404.76 720.49 L405.76 720.90 L406.77 721.30 L407.77 721.69 L408.77 722.07 L409.78 722.44 L410.78 722.80 L411.79 723.16 L412.79 723.50 L413.80 723.84 L414.80 724.17 L415.80 724.50 L416.81 724.81 L417.81 725.12 L418.82 725.42 L419.82 725.72 L420.83 726.01 L421.83 726.29 L422.83 726.57 L423.84 726.84 L424.84 727.11 L425.85 727.37 L426.85 727.63 L427.86 727.88 L428.86 728.13 L429.87 728.37 L430.87 728.62 L431.87 728.85 L432.88 729.09 L433.88 729.32 L434.89 729.55 L435.89 729.78 L436.90 730.00 L437.90 730.22 L438.90 730.44 L439.91 730.66 L440.91 730.88 L441.92 731.10 L442.92 731.32 L443.93 731.54 L444.93 731.75 L445.93 731.97 L446.94 732.19 L447.94 732.40 L448.95 732.62 L449.95 732.84 L450.96 733.07 L451.96 733.29 L452.97 733.51 L453.97 733.74 L454.97 733.97 L455.98 734.20 L456.98 734.44 L457.99 734.68 L458.99 734.92 L460.00 735.17 L461.00 735.42" stroke="#000" stroke-width="1.85" fill="none" stroke-dasharray="7.2 5.2 2 5.4" stroke-linejoin="round"/>
<path d="M165.80 496.55 L166.79 496.48 L167.77 496.49 L168.76 496.59 L169.75 496.77 L170.74 497.03 L171.72 497.37 L172.71 497.78 L173.70 498.25 L174.69 498.80 L175.67 499.40 L176.66 500.06 L177.65 500.77 L178.63 501.54 L179.62 502.35 L180.61 503.21 L181.60 504.10 L182.58 505.03 L183.57 506.00 L184.56 506.99 L185.55 508.01 L186.53 509.06 L187.52 510.12 L188.51 511.19 L189.49 512.28 L190.48 513.38 L191.47 514.48 L192.46 515.58 L193.44 516.68 L194.43 517.78 L195.42 518.87 L196.41 519.95 L197.39 521.03 L198.38 522.11 L199.37 523.19 L200.36 524.27 L201.34 525.36 L202.33 526.44 L203.32 527.54 L204.30 528.64 L205.29 529.75 L206.28 530.87 L207.27 532.01 L208.25 533.15 L209.24 534.32 L210.23 535.50 L211.22 536.69 L212.20 537.91 L213.19 539.15 L214.18 540.41 L215.16 541.70 L216.15 543.01 L217.14 544.35 L218.13 545.72 L219.11 547.12 L220.10 548.55 L221.09 550.01 L222.08 551.50 L223.06 553.02 L224.05 554.56 L225.04 556.13 L226.02 557.72 L227.01 559.32 L228.00 560.95 L228.99 562.59 L229.97 564.24 L230.96 565.90 L231.95 567.58 L232.94 569.27 L233.92 570.96 L234.91 572.65 L235.90 574.35 L236.88 576.05 L237.87 577.75 L238.86 579.45 L239.85 581.14 L240.83 582.83 L241.82 584.50 L242.81 586.17 L243.80 587.83 L244.78 589.47 L245.77 591.10 L246.76 592.71 L247.75 594.30 L248.73 595.87 L249.72 597.41 L250.71 598.94 L251.69 600.43 L252.68 601.90 L253.67 603.34 L254.66 604.76 L255.64 606.17 L256.63 607.58 L257.62 608.99 L258.61 610.42 L259.59 611.86 L260.58 613.33 L261.57 614.84 L262.55 616.38 L263.54 617.98 L264.53 619.64 L265.52 621.36 L266.50 623.15 L267.49 625.00 L268.48 626.89 L269.47 628.81 L270.45 630.75 L271.44 632.71 L272.43 634.66 L273.41 636.60 L274.40 638.51 L275.39 640.39 L276.38 642.23 L277.36 644.02 L278.35 645.76 L279.34 647.46 L280.33 649.12 L281.31 650.73 L282.30 652.31 L283.29 653.84 L284.27 655.34 L285.26 656.81 L286.25 658.24 L287.24 659.63 L288.22 660.99 L289.21 662.32 L290.20 663.62 L291.19 664.89 L292.17 666.14 L293.16 667.35 L294.15 668.54 L295.14 669.71 L296.12 670.85 L297.11 671.98 L298.10 673.08 L299.08 674.16 L300.07 675.23 L301.06 676.28 L302.05 677.31 L303.03 678.32 L304.02 679.33 L305.01 680.31 L306.00 681.28 L306.98 682.24 L307.97 683.18 L308.96 684.11 L309.94 685.02 L310.93 685.92 L311.92 686.80 L312.91 687.67 L313.89 688.52 L314.88 689.37 L315.87 690.20 L316.86 691.01 L317.84 691.81 L318.83 692.60 L319.82 693.38 L320.80 694.14 L321.79 694.89 L322.78 695.63 L323.77 696.36 L324.75 697.08 L325.74 697.78 L326.73 698.47 L327.72 699.15 L328.70 699.82 L329.69 700.48 L330.68 701.12 L331.66 701.76 L332.65 702.38 L333.64 703.00 L334.63 703.60 L335.61 704.20 L336.60 704.78 L337.59 705.36 L338.58 705.92 L339.56 706.48 L340.55 707.02 L341.54 707.56 L342.53 708.09 L343.51 708.61 L344.50 709.12 L345.49 709.62 L346.47 710.11 L347.46 710.60 L348.45 711.08 L349.44 711.55 L350.42 712.01 L351.41 712.46 L352.40 712.91 L353.39 713.35 L354.37 713.79 L355.36 714.21 L356.35 714.63 L357.33 715.05 L358.32 715.45 L359.31 715.85 L360.30 716.25 L361.28 716.64 L362.27 717.02 L363.26 717.40 L364.25 717.77 L365.23 718.14 L366.22 718.50 L367.21 718.86 L368.19 719.21 L369.18 719.56 L370.17 719.91 L371.16 720.25 L372.14 720.59 L373.13 720.92 L374.12 721.25 L375.11 721.57 L376.09 721.89 L377.08 722.21 L378.07 722.53 L379.05 722.84 L380.04 723.15 L381.03 723.46 L382.02 723.77 L383.00 724.07 L383.99 724.37 L384.98 724.67 L385.97 724.97 L386.95 725.27 L387.94 725.57 L388.93 725.86 L389.92 726.15 L390.90 726.45 L391.89 726.74 L392.88 727.03 L393.86 727.32 L394.85 727.61 L395.84 727.90 L396.83 728.18 L397.81 728.47 L398.80 728.75 L399.79 729.04 L400.78 729.32 L401.76 729.60 L402.75 729.87 L403.74 730.15 L404.72 730.43 L405.71 730.70 L406.70 730.97 L407.69 731.24 L408.67 731.51 L409.66 731.77 L410.65 732.04 L411.64 732.30 L412.62 732.56 L413.61 732.81 L414.60 733.07 L415.58 733.32 L416.57 733.57 L417.56 733.82 L418.55 734.06 L419.53 734.30 L420.52 734.54 L421.51 734.78 L422.50 735.01 L423.48 735.24 L424.47 735.47 L425.46 735.69 L426.44 735.91 L427.43 736.13 L428.42 736.34 L429.41 736.56 L430.39 736.76 L431.38 736.97 L432.37 737.17 L433.36 737.36 L434.34 737.56 L435.33 737.75 L436.32 737.93 L437.31 738.12 L438.29 738.29 L439.28 738.47 L440.27 738.64 L441.25 738.80 L442.24 738.97 L443.23 739.12 L444.22 739.28 L445.20 739.43 L446.19 739.57 L447.18 739.71 L448.17 739.84 L449.15 739.97 L450.14 740.10 L451.13 740.22 L452.11 740.34 L453.10 740.45 L454.09 740.56 L455.08 740.66 L456.06 740.75 L457.05 740.84 L458.04 740.93 L459.03 741.01 L460.01 741.08 L461.00 741.15" stroke="#000" stroke-width="3.3" fill="none" stroke-dasharray="12 9.8" stroke-linejoin="round"/>
<path d="M129.40 458.70 C137.86 465.14 169.06 486.05 180.18 497.34 C191.30 508.62 191.40 516.49 196.11 526.39 C200.83 536.29 204.74 546.72 208.49 556.73 C212.24 566.73 215.48 576.73 218.59 586.42 C221.69 596.11 224.47 605.31 227.13 614.84 C229.79 624.36 232.21 633.94 234.53 643.57 C236.86 653.21 237.31 662.04 241.06 672.63 C244.80 683.22 250.36 699.45 257.00 707.12 C263.64 714.78 272.84 715.12 280.93 718.61 C289.01 722.10 297.93 725.37 305.51 728.03 C313.10 730.69 320.40 732.90 326.42 734.58 C332.44 736.25 337.12 737.09 341.64 738.10 C346.16 739.12 349.94 739.97 353.57 740.66 C357.19 741.36 360.35 741.81 363.38 742.28 C366.40 742.75 369.11 743.12 371.71 743.48 C374.30 743.84 376.67 744.14 378.95 744.42 C381.22 744.71 383.33 744.96 385.35 745.20 C387.37 745.44 389.27 745.65 391.09 745.85 C392.91 746.05 394.63 746.23 396.29 746.41 C397.95 746.58 399.52 746.74 401.04 746.89 C402.57 747.04 404.02 747.18 405.42 747.32 C406.83 747.45 408.17 747.58 409.48 747.70 C410.79 747.83 412.04 747.94 413.26 748.05 C414.48 748.17 415.65 748.27 416.80 748.38 C417.94 748.48 419.05 748.58 420.12 748.68 C421.20 748.78 422.24 748.87 423.26 748.97 C424.28 749.06 425.27 749.15 426.23 749.23 C427.20 749.32 428.13 749.40 429.05 749.48 C429.97 749.57 430.86 749.64 431.73 749.72 C432.61 749.80 433.46 749.87 434.29 749.94 C435.13 750.02 435.94 750.09 436.74 750.15 C437.54 750.22 438.31 750.29 439.08 750.35 C439.84 750.42 440.59 750.48 441.33 750.54 C442.06 750.60 442.78 750.66 443.49 750.72 C444.19 750.78 444.88 750.84 445.56 750.89 C446.24 750.95 446.91 751.00 447.57 751.06 C448.22 751.11 448.87 751.16 449.50 751.21 C450.14 751.26 450.76 751.31 451.37 751.36 C451.98 751.41 452.58 751.46 453.18 751.50 C453.77 751.55 454.35 751.60 454.93 751.64 C455.50 751.69 456.07 751.73 456.62 751.77 C457.18 751.82 457.73 751.86 458.27 751.90 C458.81 751.94 459.34 751.98 459.87 752.02 C460.39 752.06 461.16 752.12 461.42 752.14" stroke="#000" stroke-width="1.5" fill="none"/>
<g><path d="M175.98 497.34 L184.38 497.34 M180.18 493.14 L180.18 501.54" stroke="#000" stroke-width="1.40" fill="none"/><path d="M191.91 526.39 L200.31 526.39 M196.11 522.19 L196.11 530.59" stroke="#000" stroke-width="1.40" fill="none"/><path d="M204.29 556.73 L212.69 556.73 M208.49 552.53 L208.49 560.93" stroke="#000" stroke-width="1.40" fill="none"/><path d="M214.39 586.42 L222.79 586.42 M218.59 582.22 L218.59 590.62" stroke="#000" stroke-width="1.40" fill="none"/><path d="M222.93 614.84 L231.33 614.84 M227.13 610.64 L227.13 619.04" stroke="#000" stroke-width="1.40" fill="none"/><path d="M230.33 643.57 L238.73 643.57 M234.53 639.37 L234.53 647.77" stroke="#000" stroke-width="1.40" fill="none"/><path d="M236.86 672.63 L245.26 672.63 M241.06 668.43 L241.06 676.83" stroke="#000" stroke-width="1.40" fill="none"/><path d="M252.80 707.12 L261.20 707.12 M257.00 702.92 L257.00 711.32" stroke="#000" stroke-width="1.40" fill="none"/><path d="M276.73 718.61 L285.13 718.61 M280.93 714.41 L280.93 722.81" stroke="#000" stroke-width="1.40" fill="none"/><path d="M301.31 728.03 L309.71 728.03 M305.51 723.83 L305.51 732.23" stroke="#000" stroke-width="1.40" fill="none"/><path d="M322.22 734.58 L330.62 734.58 M326.42 730.38 L326.42 738.78" stroke="#000" stroke-width="1.40" fill="none"/><path d="M337.44 738.10 L345.84 738.10 M341.64 733.90 L341.64 742.30" stroke="#000" stroke-width="1.40" fill="none"/><path d="M349.37 740.66 L357.77 740.66 M353.57 736.46 L353.57 744.86" stroke="#000" stroke-width="1.40" fill="none"/><path d="M359.18 742.28 L367.58 742.28 M363.38 738.08 L363.38 746.48" stroke="#000" stroke-width="1.40" fill="none"/><path d="M367.51 743.48 L375.91 743.48 M371.71 739.28 L371.71 747.68" stroke="#000" stroke-width="1.40" fill="none"/><path d="M374.75 744.42 L383.15 744.42 M378.95 740.22 L378.95 748.62" stroke="#000" stroke-width="1.40" fill="none"/><path d="M381.15 745.20 L389.55 745.20 M385.35 741.00 L385.35 749.40" stroke="#000" stroke-width="1.40" fill="none"/><path d="M386.89 745.85 L395.29 745.85 M391.09 741.65 L391.09 750.05" stroke="#000" stroke-width="1.40" fill="none"/><path d="M392.09 746.41 L400.49 746.41 M396.29 742.21 L396.29 750.61" stroke="#000" stroke-width="1.40" fill="none"/><path d="M396.84 746.89 L405.24 746.89 M401.04 742.69 L401.04 751.09" stroke="#000" stroke-width="1.40" fill="none"/><path d="M401.22 747.32 L409.62 747.32 M405.42 743.12 L405.42 751.52" stroke="#000" stroke-width="1.40" fill="none"/><path d="M405.28 747.70 L413.68 747.70 M409.48 743.50 L409.48 751.90" stroke="#000" stroke-width="1.40" fill="none"/><path d="M409.06 748.05 L417.46 748.05 M413.26 743.85 L413.26 752.25" stroke="#000" stroke-width="1.40" fill="none"/><path d="M412.60 748.38 L421.00 748.38 M416.80 744.18 L416.80 752.58" stroke="#000" stroke-width="1.40" fill="none"/><path d="M415.92 748.68 L424.32 748.68 M420.12 744.48 L420.12 752.88" stroke="#000" stroke-width="1.40" fill="none"/><path d="M419.06 748.97 L427.46 748.97 M423.26 744.77 L423.26 753.17" stroke="#000" stroke-width="1.40" fill="none"/><path d="M422.03 749.23 L430.43 749.23 M426.23 745.03 L426.23 753.43" stroke="#000" stroke-width="1.40" fill="none"/><path d="M424.85 749.48 L433.25 749.48 M429.05 745.28 L429.05 753.68" stroke="#000" stroke-width="1.40" fill="none"/><path d="M427.53 749.72 L435.93 749.72 M431.73 745.52 L431.73 753.92" stroke="#000" stroke-width="1.40" fill="none"/><path d="M430.09 749.94 L438.49 749.94 M434.29 745.74 L434.29 754.14" stroke="#000" stroke-width="1.40" fill="none"/><path d="M432.54 750.15 L440.94 750.15 M436.74 745.95 L436.74 754.35" stroke="#000" stroke-width="1.40" fill="none"/><path d="M434.88 750.35 L443.28 750.35 M439.08 746.15 L439.08 754.55" stroke="#000" stroke-width="1.40" fill="none"/><path d="M437.13 750.54 L445.53 750.54 M441.33 746.34 L441.33 754.74" stroke="#000" stroke-width="1.40" fill="none"/><path d="M439.29 750.72 L447.69 750.72 M443.49 746.52 L443.49 754.92" stroke="#000" stroke-width="1.40" fill="none"/><path d="M441.36 750.89 L449.76 750.89 M445.56 746.69 L445.56 755.09" stroke="#000" stroke-width="1.40" fill="none"/><path d="M443.37 751.06 L451.77 751.06 M447.57 746.86 L447.57 755.26" stroke="#000" stroke-width="1.40" fill="none"/><path d="M445.30 751.21 L453.70 751.21 M449.50 747.01 L449.50 755.41" stroke="#000" stroke-width="1.40" fill="none"/><path d="M447.17 751.36 L455.57 751.36 M451.37 747.16 L451.37 755.56" stroke="#000" stroke-width="1.40" fill="none"/><path d="M448.98 751.50 L457.38 751.50 M453.18 747.30 L453.18 755.70" stroke="#000" stroke-width="1.40" fill="none"/><path d="M450.73 751.64 L459.13 751.64 M454.93 747.44 L454.93 755.84" stroke="#000" stroke-width="1.40" fill="none"/><path d="M452.42 751.77 L460.82 751.77 M456.62 747.57 L456.62 755.97" stroke="#000" stroke-width="1.40" fill="none"/><path d="M454.07 751.90 L462.47 751.90 M458.27 747.70 L458.27 756.10" stroke="#000" stroke-width="1.40" fill="none"/><path d="M455.67 752.02 L464.07 752.02 M459.87 747.82 L459.87 756.22" stroke="#000" stroke-width="1.40" fill="none"/><path d="M457.22 752.14 L465.62 752.14 M461.42 747.94 L461.42 756.34" stroke="#000" stroke-width="1.40" fill="none"/></g>
<path d="M129.40 458.70 C135.80 469.34 155.01 485.31 167.81 522.56 C180.62 559.81 196.08 650.28 206.22 682.21 C216.37 714.14 222.29 707.75 228.69 714.14 C235.09 720.53 235.58 717.55 244.63 720.53 C253.69 723.51 272.90 729.39 283.05 732.02 C293.19 734.66 299.11 735.05 305.51 736.33 C311.92 737.61 316.74 738.83 321.46 739.68 C326.18 740.54 330.08 740.91 333.82 741.44 C337.57 741.97 340.82 742.41 343.93 742.88 C347.03 743.34 349.81 743.81 352.47 744.24 C355.13 744.66 357.55 745.06 359.87 745.43 C362.19 745.80 364.33 746.15 366.40 746.48 C368.46 746.81 370.38 747.13 372.23 747.42 C374.09 747.71 375.83 747.98 377.52 748.22 C379.20 748.45 380.79 748.66 382.34 748.85 C383.88 749.03 385.35 749.18 386.77 749.33 C388.20 749.47 389.56 749.60 390.88 749.72 C392.20 749.85 393.47 749.96 394.70 750.06 C395.94 750.17 397.12 750.27 398.28 750.36 C399.44 750.46 400.55 750.54 401.64 750.63 C402.73 750.71 403.78 750.79 404.81 750.87 C405.83 750.94 406.83 751.01 407.80 751.08 C408.78 751.15 409.72 751.22 410.65 751.28 C411.57 751.35 412.47 751.41 413.35 751.47 C414.23 751.53 415.09 751.59 415.93 751.65 C416.77 751.71 417.59 751.76 418.39 751.82 C419.19 751.87 419.98 751.93 420.75 751.98 C421.52 752.03 422.27 752.09 423.01 752.14 C423.75 752.19 424.47 752.24 425.18 752.29 C425.90 752.34 426.59 752.38 427.28 752.43 C427.96 752.48 428.63 752.52 429.29 752.57 C429.95 752.61 430.60 752.66 431.24 752.70 C431.87 752.74 432.50 752.78 433.11 752.82 C433.73 752.86 434.34 752.90 434.93 752.94 C435.53 752.98 436.11 753.02 436.69 753.06 C437.27 753.09 437.84 753.13 438.40 753.17 C438.96 753.20 439.51 753.24 440.05 753.27 C440.59 753.31 441.13 753.34 441.66 753.37 C442.19 753.41 442.71 753.44 443.22 753.47 C443.73 753.50 444.24 753.53 444.74 753.57 C445.24 753.60 445.73 753.63 446.21 753.66 C446.70 753.69 447.18 753.71 447.65 753.74 C448.13 753.77 448.60 753.80 449.06 753.83 C449.52 753.86 449.97 753.88 450.43 753.91 C450.88 753.94 451.32 753.96 451.76 753.99 C452.20 754.01 452.64 754.04 453.06 754.06 C453.49 754.09 453.92 754.11 454.34 754.14 C454.76 754.16 455.17 754.18 455.58 754.21 C455.99 754.23 456.40 754.25 456.80 754.28 C457.20 754.30 457.60 754.32 457.99 754.34 C458.39 754.37 458.78 754.39 459.16 754.41 C459.55 754.43 459.93 754.45 460.30 754.47 C460.68 754.49 461.24 754.52 461.42 754.53" stroke="#000" stroke-width="1.5" fill="none"/>
<g><rect x="125.20" y="454.50" width="8.40" height="8.40" fill="#000"/><rect x="163.61" y="518.36" width="8.40" height="8.40" fill="#000"/><rect x="202.02" y="678.01" width="8.40" height="8.40" fill="#000"/><rect x="224.49" y="709.94" width="8.40" height="8.40" fill="#000"/><rect x="240.43" y="716.33" width="8.40" height="8.40" fill="#000"/><rect x="278.85" y="727.82" width="8.40" height="8.40" fill="#000"/><rect x="301.31" y="732.13" width="8.40" height="8.40" fill="#000"/><rect x="317.26" y="735.48" width="8.40" height="8.40" fill="#000"/><rect x="329.62" y="737.24" width="8.40" height="8.40" fill="#000"/><rect x="339.73" y="738.68" width="8.40" height="8.40" fill="#000"/><rect x="348.27" y="740.04" width="8.40" height="8.40" fill="#000"/><rect x="355.67" y="741.23" width="8.40" height="8.40" fill="#000"/><rect x="362.20" y="742.28" width="8.40" height="8.40" fill="#000"/><rect x="368.03" y="743.22" width="8.40" height="8.40" fill="#000"/><rect x="373.32" y="744.02" width="8.40" height="8.40" fill="#000"/><rect x="378.14" y="744.65" width="8.40" height="8.40" fill="#000"/><rect x="382.57" y="745.13" width="8.40" height="8.40" fill="#000"/><rect x="386.68" y="745.52" width="8.40" height="8.40" fill="#000"/><rect x="390.50" y="745.86" width="8.40" height="8.40" fill="#000"/><rect x="394.08" y="746.16" width="8.40" height="8.40" fill="#000"/><rect x="397.44" y="746.43" width="8.40" height="8.40" fill="#000"/><rect x="400.61" y="746.67" width="8.40" height="8.40" fill="#000"/><rect x="403.60" y="746.88" width="8.40" height="8.40" fill="#000"/><rect x="406.45" y="747.08" width="8.40" height="8.40" fill="#000"/><rect x="409.15" y="747.27" width="8.40" height="8.40" fill="#000"/><rect x="411.73" y="747.45" width="8.40" height="8.40" fill="#000"/><rect x="414.19" y="747.62" width="8.40" height="8.40" fill="#000"/><rect x="416.55" y="747.78" width="8.40" height="8.40" fill="#000"/><rect x="418.81" y="747.94" width="8.40" height="8.40" fill="#000"/><rect x="420.98" y="748.09" width="8.40" height="8.40" fill="#000"/><rect x="423.08" y="748.23" width="8.40" height="8.40" fill="#000"/><rect x="425.09" y="748.37" width="8.40" height="8.40" fill="#000"/><rect x="427.04" y="748.50" width="8.40" height="8.40" fill="#000"/><rect x="428.91" y="748.62" width="8.40" height="8.40" fill="#000"/><rect x="430.73" y="748.74" width="8.40" height="8.40" fill="#000"/><rect x="432.49" y="748.86" width="8.40" height="8.40" fill="#000"/><rect x="434.20" y="748.97" width="8.40" height="8.40" fill="#000"/><rect x="435.85" y="749.07" width="8.40" height="8.40" fill="#000"/><rect x="437.46" y="749.17" width="8.40" height="8.40" fill="#000"/><rect x="439.02" y="749.27" width="8.40" height="8.40" fill="#000"/><rect x="440.54" y="749.37" width="8.40" height="8.40" fill="#000"/><rect x="442.01" y="749.46" width="8.40" height="8.40" fill="#000"/><rect x="443.45" y="749.54" width="8.40" height="8.40" fill="#000"/><rect x="444.86" y="749.63" width="8.40" height="8.40" fill="#000"/><rect x="446.23" y="749.71" width="8.40" height="8.40" fill="#000"/><rect x="447.56" y="749.79" width="8.40" height="8.40" fill="#000"/><rect x="448.86" y="749.86" width="8.40" height="8.40" fill="#000"/><rect x="450.14" y="749.94" width="8.40" height="8.40" fill="#000"/><rect x="451.38" y="750.01" width="8.40" height="8.40" fill="#000"/><rect x="452.60" y="750.08" width="8.40" height="8.40" fill="#000"/><rect x="453.79" y="750.14" width="8.40" height="8.40" fill="#000"/><rect x="454.96" y="750.21" width="8.40" height="8.40" fill="#000"/><rect x="456.10" y="750.27" width="8.40" height="8.40" fill="#000"/><rect x="457.22" y="750.33" width="8.40" height="8.40" fill="#000"/></g>
<path d="M129.40 458.70 C133.14 469.34 145.47 501.27 151.87 522.56 C158.27 543.85 158.75 554.49 167.81 586.42 C176.87 618.35 193.42 688.17 206.22 714.14 C219.03 740.11 231.83 736.84 244.63 742.24 C257.44 747.63 272.90 745.40 283.05 746.52 C293.19 747.63 299.11 748.33 305.51 748.94 C311.92 749.56 316.74 749.86 321.46 750.22 C326.18 750.58 330.08 750.81 333.82 751.11 C337.57 751.42 340.82 751.79 343.93 752.07 C347.03 752.36 349.81 752.60 352.47 752.82 C355.13 753.05 357.55 753.24 359.87 753.41 C362.19 753.59 364.33 753.74 366.40 753.88 C368.46 754.02 370.38 754.15 372.23 754.27 C374.09 754.39 375.83 754.50 377.52 754.60 C379.20 754.71 380.79 754.80 382.34 754.89 C383.88 754.97 385.35 755.05 386.77 755.13 C388.20 755.20 389.56 755.27 390.88 755.34 C392.20 755.40 393.47 755.46 394.70 755.52 C395.94 755.58 397.12 755.64 398.28 755.69 C399.44 755.74 400.55 755.79 401.64 755.84 C402.73 755.89 403.78 755.94 404.81 755.98 C405.83 756.03 406.83 756.07 407.80 756.11 C408.78 756.16 409.72 756.20 410.65 756.24 C411.57 756.28 412.47 756.31 413.35 756.35 C414.23 756.39 415.09 756.43 415.93 756.46 C416.77 756.50 417.59 756.53 418.39 756.57 C419.19 756.60 419.98 756.64 420.75 756.67 C421.52 756.70 422.27 756.73 423.01 756.77 C423.75 756.80 424.47 756.83 425.18 756.86 C425.90 756.89 426.59 756.92 427.28 756.95 C427.96 756.98 428.63 757.01 429.29 757.04 C429.95 757.07 430.60 757.09 431.24 757.12 C431.87 757.15 432.50 757.18 433.11 757.20 C433.73 757.23 434.34 757.25 434.93 757.28 C435.53 757.30 436.11 757.33 436.69 757.35 C437.27 757.38 437.84 757.40 438.40 757.42 C438.96 757.45 439.51 757.47 440.05 757.49 C440.59 757.52 441.13 757.54 441.66 757.56 C442.19 757.58 442.71 757.60 443.22 757.63 C443.73 757.65 444.24 757.67 444.74 757.69 C445.24 757.71 445.73 757.73 446.21 757.75 C446.70 757.77 447.18 757.79 447.65 757.81 C448.13 757.83 448.60 757.85 449.06 757.87 C449.52 757.89 449.97 757.90 450.43 757.92 C450.88 757.94 451.32 757.96 451.76 757.98 C452.20 757.99 452.64 758.01 453.06 758.03 C453.49 758.05 453.92 758.06 454.34 758.08 C454.76 758.10 455.17 758.11 455.58 758.13 C455.99 758.15 456.40 758.16 456.80 758.18 C457.20 758.20 457.60 758.21 457.99 758.23 C458.39 758.24 458.78 758.26 459.16 758.27 C459.55 758.29 459.93 758.30 460.30 758.32 C460.68 758.33 461.24 758.36 461.42 758.36" stroke="#000" stroke-width="1.5" fill="none"/>
<g><circle cx="151.87" cy="522.56" r="3.45" fill="none" stroke="#000" stroke-width="1.30"/><circle cx="167.81" cy="586.42" r="3.45" fill="none" stroke="#000" stroke-width="1.30"/><circle cx="206.22" cy="714.14" r="3.45" fill="none" stroke="#000" stroke-width="1.30"/><circle cx="244.63" cy="742.24" r="3.45" fill="none" stroke="#000" stroke-width="1.30"/><circle cx="283.05" cy="746.52" r="3.45" fill="none" stroke="#000" stroke-width="1.30"/><circle cx="305.51" cy="748.94" r="3.45" fill="none" stroke="#000" stroke-width="1.30"/><circle cx="321.46" cy="750.22" r="3.45" fill="none" stroke="#000" stroke-width="1.30"/><circle cx="333.82" cy="751.11" r="3.45" fill="none" stroke="#000" stroke-width="1.30"/><circle cx="343.93" cy="752.07" r="3.45" fill="none" stroke="#000" stroke-width="1.30"/><circle cx="352.47" cy="752.82" r="3.45" fill="none" stroke="#000" stroke-width="1.30"/><circle cx="359.87" cy="753.41" r="3.45" fill="none" stroke="#000" stroke-width="1.30"/><circle cx="366.40" cy="753.88" r="3.45" fill="none" stroke="#000" stroke-width="1.30"/><circle cx="372.23" cy="754.27" r="3.45" fill="none" stroke="#000" stroke-width="1.30"/><circle cx="377.52" cy="754.60" r="3.45" fill="none" stroke="#000" stroke-width="1.30"/><circle cx="382.34" cy="754.89" r="3.45" fill="none" stroke="#000" stroke-width="1.30"/><circle cx="386.77" cy="755.13" r="3.45" fill="none" stroke="#000" stroke-width="1.30"/><circle cx="390.88" cy="755.34" r="3.45" fill="none" stroke="#000" stroke-width="1.30"/><circle cx="394.70" cy="755.52" r="3.45" fill="none" stroke="#000" stroke-width="1.30"/><circle cx="398.28" cy="755.69" r="3.45" fill="none" stroke="#000" stroke-width="1.30"/><circle cx="401.64" cy="755.84" r="3.45" fill="none" stroke="#000" stroke-width="1.30"/><circle cx="404.81" cy="755.98" r="3.45" fill="none" stroke="#000" stroke-width="1.30"/><circle cx="407.80" cy="756.11" r="3.45" fill="none" stroke="#000" stroke-width="1.30"/><circle cx="410.65" cy="756.24" r="3.45" fill="none" stroke="#000" stroke-width="1.30"/><circle cx="413.35" cy="756.35" r="3.45" fill="none" stroke="#000" stroke-width="1.30"/><circle cx="415.93" cy="756.46" r="3.45" fill="none" stroke="#000" stroke-width="1.30"/><circle cx="418.39" cy="756.57" r="3.45" fill="none" stroke="#000" stroke-width="1.30"/><circle cx="420.75" cy="756.67" r="3.45" fill="none" stroke="#000" stroke-width="1.30"/><circle cx="423.01" cy="756.77" r="3.45" fill="none" stroke="#000" stroke-width="1.30"/><circle cx="425.18" cy="756.86" r="3.45" fill="none" stroke="#000" stroke-width="1.30"/><circle cx="427.28" cy="756.95" r="3.45" fill="none" stroke="#000" stroke-width="1.30"/><circle cx="429.29" cy="757.04" r="3.45" fill="none" stroke="#000" stroke-width="1.30"/><circle cx="431.24" cy="757.12" r="3.45" fill="none" stroke="#000" stroke-width="1.30"/><circle cx="433.11" cy="757.20" r="3.45" fill="none" stroke="#000" stroke-width="1.30"/><circle cx="434.93" cy="757.28" r="3.45" fill="none" stroke="#000" stroke-width="1.30"/><circle cx="436.69" cy="757.35" r="3.45" fill="none" stroke="#000" stroke-width="1.30"/><circle cx="438.40" cy="757.42" r="3.45" fill="none" stroke="#000" stroke-width="1.30"/><circle cx="440.05" cy="757.49" r="3.45" fill="none" stroke="#000" stroke-width="1.30"/><circle cx="441.66" cy="757.56" r="3.45" fill="none" stroke="#000" stroke-width="1.30"/><circle cx="443.22" cy="757.63" r="3.45" fill="none" stroke="#000" stroke-width="1.30"/><circle cx="444.74" cy="757.69" r="3.45" fill="none" stroke="#000" stroke-width="1.30"/><circle cx="446.21" cy="757.75" r="3.45" fill="none" stroke="#000" stroke-width="1.30"/><circle cx="447.65" cy="757.81" r="3.45" fill="none" stroke="#000" stroke-width="1.30"/><circle cx="449.06" cy="757.87" r="3.45" fill="none" stroke="#000" stroke-width="1.30"/><circle cx="450.43" cy="757.92" r="3.45" fill="none" stroke="#000" stroke-width="1.30"/><circle cx="451.76" cy="757.98" r="3.45" fill="none" stroke="#000" stroke-width="1.30"/><circle cx="453.06" cy="758.03" r="3.45" fill="none" stroke="#000" stroke-width="1.30"/><circle cx="454.34" cy="758.08" r="3.45" fill="none" stroke="#000" stroke-width="1.30"/><circle cx="455.58" cy="758.13" r="3.45" fill="none" stroke="#000" stroke-width="1.30"/><circle cx="456.80" cy="758.18" r="3.45" fill="none" stroke="#000" stroke-width="1.30"/><circle cx="457.99" cy="758.23" r="3.45" fill="none" stroke="#000" stroke-width="1.30"/><circle cx="459.16" cy="758.27" r="3.45" fill="none" stroke="#000" stroke-width="1.30"/><circle cx="460.30" cy="758.32" r="3.45" fill="none" stroke="#000" stroke-width="1.30"/><circle cx="461.42" cy="758.36" r="3.45" fill="none" stroke="#000" stroke-width="1.30"/></g>
<rect x="125.20" y="454.50" width="8.40" height="8.40" fill="#000"/>
<path d="M409.8 482.8 H456.6" stroke="#000" stroke-width="1.85"/>
<path d="M409.8 519.6 H456.6" stroke="#000" stroke-width="1.85" stroke-dasharray="7.2 5.2 2 5.4"/>
<path d="M409.8 555.9 H456.6" stroke="#000" stroke-width="3.3" stroke-dasharray="12 9.8"/>
<path d="M409.8 591.9 H456.6" stroke="#000" stroke-width="1.85"/>
<path d="M428.70 591.90 L437.10 591.90 M432.90 587.70 L432.90 596.10" stroke="#000" stroke-width="1.40" fill="none"/>
<path d="M409.8 627.6 H456.6" stroke="#000" stroke-width="1.85"/>
<rect x="429.00" y="623.70" width="7.80" height="7.80" fill="#000"/>
<text x="461.0" y="487.7" font-family='"Liberation Sans", Arial, sans-serif' font-size="13.9" stroke="#000" stroke-width="0.22" textLength="44.0" lengthAdjust="spacingAndGlyphs">af = 20</text>
<text x="461.0" y="524.5" font-family='"Liberation Sans", Arial, sans-serif' font-size="13.9" stroke="#000" stroke-width="0.22" textLength="44.0" lengthAdjust="spacingAndGlyphs">af = 10</text>
<text x="461.0" y="560.8" font-family='"Liberation Sans", Arial, sans-serif' font-size="13.9" stroke="#000" stroke-width="0.22" textLength="36.2" lengthAdjust="spacingAndGlyphs">af = 5</text>
<text x="461.0" y="596.8" font-family='"Liberation Sans", Arial, sans-serif' font-size="13.9" stroke="#000" stroke-width="0.22" textLength="36.2" lengthAdjust="spacingAndGlyphs">af = 1</text>
<text x="461.0" y="632.5" font-family='"Liberation Sans", Arial, sans-serif' font-size="13.9" stroke="#000" stroke-width="0.22" textLength="48.2" lengthAdjust="spacingAndGlyphs">af = 0.5</text>
</g>
<text y="865" font-family='"Liberation Serif", "Times New Roman", serif' font-size="16.5"><tspan x="262.8" font-size="18">(</tspan><tspan x="269.6" font-weight="bold">b</tspan><tspan x="279.4" font-size="18">)</tspan></text>
</svg></body></html>
